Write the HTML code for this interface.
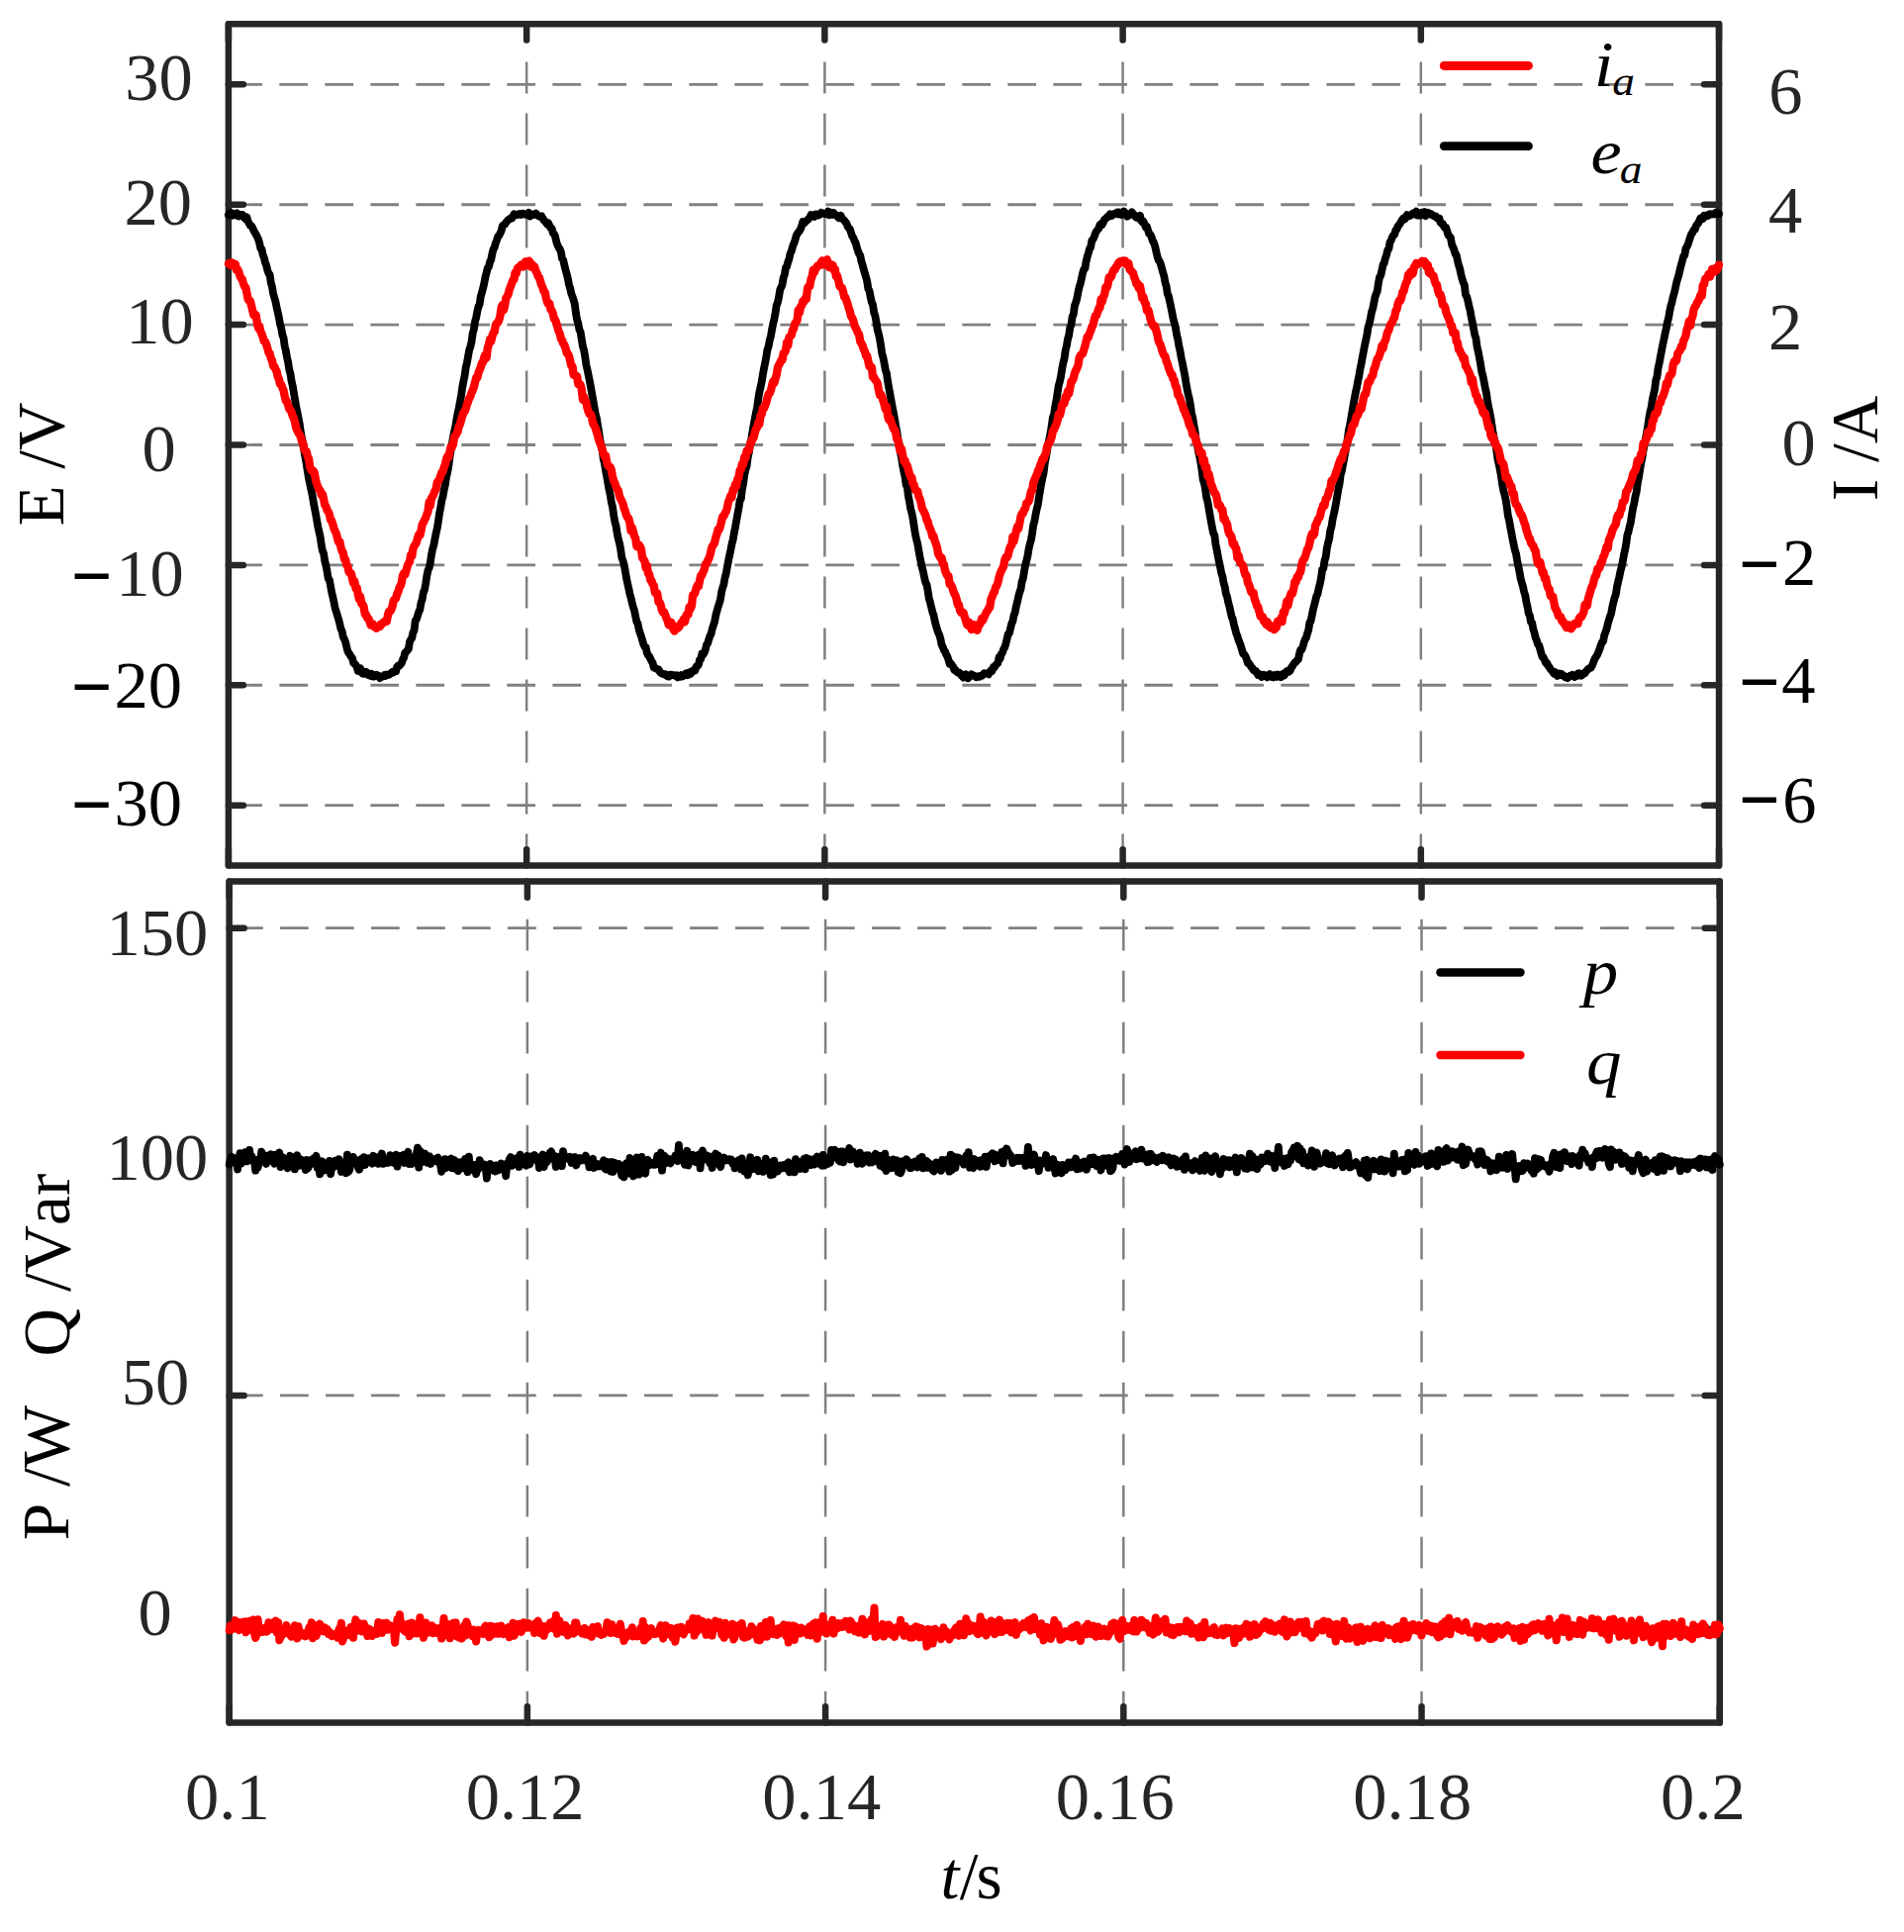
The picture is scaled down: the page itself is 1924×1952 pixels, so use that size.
<!DOCTYPE html>
<html><head><meta charset="utf-8"><title>Waveforms</title>
<style>html,body{margin:0;padding:0;background:#fff}svg{display:block}</style>
</head><body>
<svg width="1924" height="1952" viewBox="0 0 1924 1952">
<rect width="1924" height="1952" fill="#fff"/>
<g stroke="#808080" stroke-width="2.8" stroke-dasharray="28.7 17.3">
<line x1="1737.05" y1="85.36" x2="230.9" y2="85.36"/>
<line x1="1737.05" y1="206.74" x2="230.9" y2="206.74"/>
<line x1="1737.05" y1="328.12" x2="230.9" y2="328.12"/>
<line x1="1737.05" y1="449.50" x2="230.9" y2="449.50"/>
<line x1="1737.05" y1="570.88" x2="230.9" y2="570.88"/>
<line x1="1737.05" y1="692.26" x2="230.9" y2="692.26"/>
<line x1="1737.05" y1="813.64" x2="230.9" y2="813.64"/>
<line x1="1737.75" y1="937.70" x2="231.65" y2="937.70"/>
<line x1="1737.75" y1="1409.90" x2="231.65" y2="1409.90"/>
</g>
<g stroke="#808080" stroke-width="2.5" stroke-dasharray="31.8 20.2">
<line x1="532.13" y1="874.4" x2="532.13" y2="24.3"/>
<line x1="532.87" y1="1740.45" x2="532.87" y2="890.5"/>
<line x1="833.36" y1="874.4" x2="833.36" y2="24.3"/>
<line x1="834.09" y1="1740.45" x2="834.09" y2="890.5"/>
<line x1="1134.59" y1="874.4" x2="1134.59" y2="24.3"/>
<line x1="1135.31" y1="1740.45" x2="1135.31" y2="890.5"/>
<line x1="1435.82" y1="874.4" x2="1435.82" y2="24.3"/>
<line x1="1436.53" y1="1740.45" x2="1436.53" y2="890.5"/>
</g>
<g stroke="#262626" stroke-width="6.5" stroke-linecap="round">
<line x1="230.9" y1="85.36" x2="245.9" y2="85.36"/>
<line x1="1737.05" y1="85.36" x2="1722.05" y2="85.36"/>
<line x1="230.9" y1="206.74" x2="245.9" y2="206.74"/>
<line x1="1737.05" y1="206.74" x2="1722.05" y2="206.74"/>
<line x1="230.9" y1="328.12" x2="245.9" y2="328.12"/>
<line x1="1737.05" y1="328.12" x2="1722.05" y2="328.12"/>
<line x1="230.9" y1="449.50" x2="245.9" y2="449.50"/>
<line x1="1737.05" y1="449.50" x2="1722.05" y2="449.50"/>
<line x1="230.9" y1="570.88" x2="245.9" y2="570.88"/>
<line x1="1737.05" y1="570.88" x2="1722.05" y2="570.88"/>
<line x1="230.9" y1="692.26" x2="245.9" y2="692.26"/>
<line x1="1737.05" y1="692.26" x2="1722.05" y2="692.26"/>
<line x1="230.9" y1="813.64" x2="245.9" y2="813.64"/>
<line x1="1737.05" y1="813.64" x2="1722.05" y2="813.64"/>
<line x1="231.65" y1="937.70" x2="246.65" y2="937.70"/>
<line x1="1737.75" y1="937.70" x2="1722.75" y2="937.70"/>
<line x1="231.65" y1="1173.80" x2="246.65" y2="1173.80"/>
<line x1="1737.75" y1="1173.80" x2="1722.75" y2="1173.80"/>
<line x1="231.65" y1="1409.90" x2="246.65" y2="1409.90"/>
<line x1="1737.75" y1="1409.90" x2="1722.75" y2="1409.90"/>
<line x1="231.65" y1="1646.00" x2="246.65" y2="1646.00"/>
<line x1="1737.75" y1="1646.00" x2="1722.75" y2="1646.00"/>
<line x1="230.90" y1="24.3" x2="230.90" y2="40.5"/>
<line x1="230.90" y1="874.4" x2="230.90" y2="858.1999999999999"/>
<line x1="231.65" y1="890.5" x2="231.65" y2="906.7"/>
<line x1="231.65" y1="1740.45" x2="231.65" y2="1724.25"/>
<line x1="532.13" y1="24.3" x2="532.13" y2="40.5"/>
<line x1="532.13" y1="874.4" x2="532.13" y2="858.1999999999999"/>
<line x1="532.87" y1="890.5" x2="532.87" y2="906.7"/>
<line x1="532.87" y1="1740.45" x2="532.87" y2="1724.25"/>
<line x1="833.36" y1="24.3" x2="833.36" y2="40.5"/>
<line x1="833.36" y1="874.4" x2="833.36" y2="858.1999999999999"/>
<line x1="834.09" y1="890.5" x2="834.09" y2="906.7"/>
<line x1="834.09" y1="1740.45" x2="834.09" y2="1724.25"/>
<line x1="1134.59" y1="24.3" x2="1134.59" y2="40.5"/>
<line x1="1134.59" y1="874.4" x2="1134.59" y2="858.1999999999999"/>
<line x1="1135.31" y1="890.5" x2="1135.31" y2="906.7"/>
<line x1="1135.31" y1="1740.45" x2="1135.31" y2="1724.25"/>
<line x1="1435.82" y1="24.3" x2="1435.82" y2="40.5"/>
<line x1="1435.82" y1="874.4" x2="1435.82" y2="858.1999999999999"/>
<line x1="1436.53" y1="890.5" x2="1436.53" y2="906.7"/>
<line x1="1436.53" y1="1740.45" x2="1436.53" y2="1724.25"/>
<line x1="1737.05" y1="24.3" x2="1737.05" y2="40.5"/>
<line x1="1737.05" y1="874.4" x2="1737.05" y2="858.1999999999999"/>
<line x1="1737.75" y1="890.5" x2="1737.75" y2="906.7"/>
<line x1="1737.75" y1="1740.45" x2="1737.75" y2="1724.25"/>
</g>
<g fill="none" stroke="#262626" stroke-width="6.5" stroke-linejoin="round">
<rect x="230.9" y="24.3" width="1506.15" height="850.10"/>
<rect x="231.65" y="890.5" width="1506.10" height="849.95"/>
</g>
<g fill="none" stroke-linejoin="round" stroke-linecap="round">
<path d="M230.9,217.2 L232.1,215.4 L233.2,214.8 L234.4,216.5 L235.5,217.5 L236.7,216.2 L237.9,215.8 L239.0,215.3 L240.2,218.1 L241.3,218.5 L242.5,216.8 L243.6,217.5 L244.8,216.9 L246.0,218.3 L247.1,220.3 L248.3,221.4 L249.4,219.4 L250.6,223.8 L251.8,225.8 L252.9,227.8 L254.1,228.2 L255.2,230.1 L256.4,232.8 L257.5,234.8 L258.7,236.9 L259.9,239.2 L261.0,241.6 L262.2,245.6 L263.3,251.1 L264.5,251.8 L265.7,257.7 L266.8,260.1 L268.0,265.4 L269.1,267.9 L270.3,273.0 L271.5,276.3 L272.6,277.4 L273.8,285.7 L274.9,289.4 L276.1,296.7 L277.2,300.5 L278.4,304.5 L279.6,310.5 L280.7,315.3 L281.9,320.9 L283.0,327.6 L284.2,331.4 L285.4,338.5 L286.5,341.2 L287.7,349.6 L288.8,354.2 L290.0,360.8 L291.1,365.8 L292.3,373.5 L293.5,377.9 L294.6,385.3 L295.8,390.1 L296.9,397.1 L298.1,403.9 L299.3,411.4 L300.4,416.1 L301.6,422.9 L302.7,428.1 L303.9,436.8 L305.0,442.4 L306.2,448.9 L307.4,455.7 L308.5,462.3 L309.7,468.9 L310.8,476.2 L312.0,483.2 L313.2,488.9 L314.3,494.3 L315.5,499.6 L316.6,506.5 L317.8,512.7 L319.0,519.1 L320.1,525.4 L321.3,532.0 L322.4,537.3 L323.6,542.2 L324.7,550.3 L325.9,556.5 L327.1,559.3 L328.2,566.7 L329.4,571.5 L330.5,577.0 L331.7,584.6 L332.9,585.9 L334.0,591.8 L335.2,598.6 L336.3,603.0 L337.5,608.5 L338.6,614.4 L339.8,618.1 L341.0,622.1 L342.1,625.6 L343.3,630.3 L344.4,635.1 L345.6,637.6 L346.8,643.7 L347.9,645.6 L349.1,648.7 L350.2,653.4 L351.4,658.1 L352.6,660.1 L353.7,661.5 L354.9,663.7 L356.0,664.9 L357.2,669.8 L358.3,670.7 L359.5,671.8 L360.7,674.2 L361.8,678.1 L363.0,675.9 L364.1,675.3 L365.3,677.7 L366.5,680.7 L367.6,680.8 L368.8,680.7 L369.9,678.8 L371.1,681.2 L372.2,682.1 L373.4,680.8 L374.6,682.8 L375.7,680.8 L376.9,683.7 L378.0,683.6 L379.2,682.3 L380.4,681.6 L381.5,682.4 L382.7,682.8 L383.8,685.1 L385.0,683.8 L386.1,683.6 L387.3,683.4 L388.5,682.1 L389.6,682.9 L390.8,681.4 L391.9,681.8 L393.1,681.8 L394.3,680.8 L395.4,679.9 L396.6,678.7 L397.7,679.4 L398.9,678.1 L400.1,678.2 L401.2,673.7 L402.4,672.5 L403.5,672.7 L404.7,671.2 L405.8,670.1 L407.0,666.4 L408.2,664.1 L409.3,659.4 L410.5,658.8 L411.6,657.0 L412.8,655.8 L414.0,648.3 L415.1,646.2 L416.3,644.6 L417.4,638.9 L418.6,636.9 L419.7,627.3 L420.9,625.6 L422.1,621.9 L423.2,618.2 L424.4,615.7 L425.5,608.8 L426.7,605.5 L427.9,598.2 L429.0,596.1 L430.2,589.6 L431.3,582.0 L432.5,576.2 L433.7,573.8 L434.8,568.7 L436.0,560.4 L437.1,554.8 L438.3,551.0 L439.4,544.8 L440.6,538.9 L441.8,533.5 L442.9,526.9 L444.1,518.6 L445.2,513.1 L446.4,505.3 L447.6,501.3 L448.7,495.0 L449.9,489.6 L451.0,482.2 L452.2,477.0 L453.3,471.0 L454.5,461.8 L455.7,454.5 L456.8,448.6 L458.0,441.5 L459.1,436.1 L460.3,430.7 L461.5,423.3 L462.6,417.3 L463.8,411.7 L464.9,405.9 L466.1,399.4 L467.2,391.5 L468.4,385.0 L469.6,379.5 L470.7,371.3 L471.9,366.6 L473.0,360.2 L474.2,353.6 L475.4,350.0 L476.5,345.4 L477.7,336.8 L478.8,332.7 L480.0,325.0 L481.2,320.7 L482.3,314.6 L483.5,309.6 L484.6,307.5 L485.8,299.4 L486.9,295.9 L488.1,291.2 L489.3,286.1 L490.4,280.2 L491.6,275.5 L492.7,271.0 L493.9,269.7 L495.1,264.5 L496.2,262.5 L497.4,256.3 L498.5,251.9 L499.7,250.0 L500.8,245.6 L502.0,242.6 L503.2,238.8 L504.3,238.1 L505.5,235.6 L506.6,233.2 L507.8,228.3 L509.0,227.1 L510.1,226.7 L511.3,224.7 L512.4,223.4 L513.6,222.0 L514.8,221.4 L515.9,220.5 L517.1,220.7 L518.2,219.3 L519.4,216.2 L520.5,216.9 L521.7,217.0 L522.9,217.0 L524.0,216.4 L525.2,215.9 L526.3,216.9 L527.5,215.8 L528.7,215.7 L529.8,216.7 L531.0,216.7 L532.1,216.9 L533.3,217.0 L534.4,214.9 L535.6,218.5 L536.8,216.3 L537.9,216.8 L539.1,217.0 L540.2,216.4 L541.4,215.5 L542.6,217.0 L543.7,217.7 L544.9,218.7 L546.0,218.8 L547.2,218.3 L548.4,220.6 L549.5,222.4 L550.7,223.6 L551.8,224.7 L553.0,226.5 L554.1,225.3 L555.3,227.9 L556.5,230.5 L557.6,230.8 L558.8,235.4 L559.9,236.4 L561.1,239.0 L562.3,244.5 L563.4,247.6 L564.6,250.1 L565.7,251.6 L566.9,254.7 L568.0,261.3 L569.2,262.7 L570.4,268.3 L571.5,272.6 L572.7,277.1 L573.8,281.3 L575.0,287.6 L576.2,291.4 L577.3,296.6 L578.5,299.6 L579.6,303.0 L580.8,307.4 L581.9,316.0 L583.1,322.9 L584.3,326.9 L585.4,333.0 L586.6,335.4 L587.7,342.7 L588.9,349.9 L590.1,353.9 L591.2,360.2 L592.4,368.6 L593.5,373.5 L594.7,379.3 L595.9,385.2 L597.0,391.3 L598.2,398.1 L599.3,403.9 L600.5,411.1 L601.6,417.9 L602.8,421.8 L604.0,429.5 L605.1,435.9 L606.3,444.7 L607.4,449.7 L608.6,455.1 L609.8,464.0 L610.9,467.9 L612.1,476.0 L613.2,481.6 L614.4,488.6 L615.5,494.7 L616.7,499.9 L617.9,508.0 L619.0,512.1 L620.2,520.8 L621.3,527.1 L622.5,531.4 L623.7,539.3 L624.8,544.5 L626.0,548.9 L627.1,554.4 L628.3,563.3 L629.5,566.5 L630.6,570.5 L631.8,576.7 L632.9,583.6 L634.1,589.3 L635.2,594.1 L636.4,600.1 L637.6,604.1 L638.7,608.9 L639.9,613.5 L641.0,616.7 L642.2,622.8 L643.4,628.5 L644.5,629.9 L645.7,636.3 L646.8,639.6 L648.0,643.0 L649.1,646.8 L650.3,651.0 L651.5,653.4 L652.6,653.8 L653.8,659.7 L654.9,661.9 L656.1,663.1 L657.3,665.8 L658.4,667.9 L659.6,669.8 L660.7,674.6 L661.9,675.0 L663.0,675.3 L664.2,676.2 L665.4,676.4 L666.5,678.3 L667.7,679.9 L668.8,680.3 L670.0,681.2 L671.2,681.2 L672.3,681.2 L673.5,682.6 L674.6,683.4 L675.8,683.6 L677.0,681.7 L678.1,681.6 L679.3,682.0 L680.4,682.2 L681.6,682.2 L682.7,683.2 L683.9,682.4 L685.1,684.3 L686.2,683.3 L687.4,683.8 L688.5,682.1 L689.7,683.3 L690.9,682.6 L692.0,681.8 L693.2,680.4 L694.3,682.3 L695.5,682.0 L696.6,679.5 L697.8,680.9 L699.0,678.3 L700.1,678.5 L701.3,676.9 L702.4,677.5 L703.6,673.3 L704.8,673.0 L705.9,671.7 L707.1,666.5 L708.2,665.8 L709.4,660.5 L710.6,661.3 L711.7,659.5 L712.9,656.1 L714.0,651.4 L715.2,649.9 L716.3,646.0 L717.5,642.3 L718.7,640.1 L719.8,635.0 L721.0,631.6 L722.1,628.2 L723.3,621.6 L724.5,617.3 L725.6,613.3 L726.8,609.6 L727.9,606.0 L729.1,598.3 L730.2,593.9 L731.4,590.4 L732.6,583.4 L733.7,579.6 L734.9,572.6 L736.0,566.9 L737.2,561.0 L738.4,555.5 L739.5,549.8 L740.7,545.3 L741.8,538.6 L743.0,532.7 L744.1,526.4 L745.3,519.7 L746.5,513.1 L747.6,505.8 L748.8,504.1 L749.9,494.5 L751.1,488.7 L752.3,479.6 L753.4,474.6 L754.6,470.9 L755.7,462.1 L756.9,456.6 L758.1,448.4 L759.2,444.1 L760.4,436.5 L761.5,430.0 L762.7,423.5 L763.8,417.6 L765.0,412.5 L766.2,403.6 L767.3,396.7 L768.5,391.5 L769.6,386.3 L770.8,378.8 L772.0,372.3 L773.1,367.0 L774.3,360.8 L775.4,353.4 L776.6,350.3 L777.7,343.9 L778.9,339.7 L780.1,332.8 L781.2,327.3 L782.4,322.1 L783.5,316.4 L784.7,308.4 L785.9,305.5 L787.0,300.3 L788.2,292.8 L789.3,290.4 L790.5,287.5 L791.7,280.5 L792.8,277.5 L794.0,270.3 L795.1,269.3 L796.3,264.5 L797.4,261.7 L798.6,256.0 L799.8,253.7 L800.9,249.2 L802.1,246.3 L803.2,243.5 L804.4,238.9 L805.6,236.2 L806.7,234.6 L807.9,233.4 L809.0,231.4 L810.2,228.0 L811.3,223.9 L812.5,225.4 L813.7,224.4 L814.8,223.0 L816.0,222.3 L817.1,221.2 L818.3,219.6 L819.5,217.1 L820.6,218.0 L821.8,218.1 L822.9,218.9 L824.1,216.5 L825.2,216.5 L826.4,217.6 L827.6,217.3 L828.7,216.1 L829.9,214.8 L831.0,215.2 L832.2,215.6 L833.4,216.2 L834.5,215.5 L835.7,215.9 L836.8,213.6 L838.0,217.3 L839.2,216.5 L840.3,214.9 L841.5,216.8 L842.6,215.2 L843.8,217.2 L844.9,217.4 L846.1,218.4 L847.3,220.1 L848.4,220.4 L849.6,217.7 L850.7,220.4 L851.9,221.6 L853.1,222.5 L854.2,224.3 L855.4,225.4 L856.5,228.6 L857.7,230.5 L858.8,231.3 L860.0,235.1 L861.2,238.7 L862.3,240.2 L863.5,243.4 L864.6,245.2 L865.8,249.9 L867.0,253.7 L868.1,256.5 L869.3,258.2 L870.4,263.9 L871.6,267.7 L872.8,272.1 L873.9,276.2 L875.1,280.0 L876.2,284.1 L877.4,292.1 L878.5,293.7 L879.7,300.2 L880.9,305.6 L882.0,307.8 L883.2,315.9 L884.3,318.9 L885.5,325.4 L886.7,333.1 L887.8,337.1 L889.0,342.5 L890.1,349.2 L891.3,357.5 L892.4,361.2 L893.6,367.0 L894.8,374.1 L895.9,377.0 L897.1,385.5 L898.2,391.9 L899.4,398.1 L900.6,405.0 L901.7,411.3 L902.9,416.8 L904.0,423.1 L905.2,430.5 L906.4,436.5 L907.5,444.5 L908.7,448.9 L909.8,456.9 L911.0,462.3 L912.1,470.1 L913.3,476.2 L914.5,481.8 L915.6,489.8 L916.8,492.2 L917.9,501.3 L919.1,507.6 L920.3,514.6 L921.4,518.3 L922.6,524.6 L923.7,531.9 L924.9,539.7 L926.0,544.6 L927.2,549.3 L928.4,556.3 L929.5,562.7 L930.7,568.3 L931.8,573.4 L933.0,578.0 L934.2,584.0 L935.3,588.6 L936.5,590.7 L937.6,596.9 L938.8,604.9 L939.9,608.3 L941.1,613.3 L942.3,618.2 L943.4,621.4 L944.6,627.2 L945.7,631.4 L946.9,635.6 L948.1,639.2 L949.2,641.4 L950.4,645.6 L951.5,651.3 L952.7,653.6 L953.9,657.1 L955.0,658.2 L956.2,661.5 L957.3,663.3 L958.5,666.7 L959.6,670.8 L960.8,670.2 L962.0,672.2 L963.1,673.5 L964.3,676.9 L965.4,676.7 L966.6,678.6 L967.8,679.6 L968.9,679.3 L970.1,680.0 L971.2,682.0 L972.4,683.3 L973.5,684.6 L974.7,682.8 L975.9,681.3 L977.0,682.8 L978.2,685.3 L979.3,683.9 L980.5,682.6 L981.7,681.3 L982.8,681.9 L984.0,682.8 L985.1,682.9 L986.3,684.3 L987.5,683.6 L988.6,683.3 L989.8,683.7 L990.9,682.6 L992.1,682.9 L993.2,681.9 L994.4,680.3 L995.6,680.7 L996.7,680.5 L997.9,680.6 L999.0,681.3 L1000.2,679.0 L1001.4,677.3 L1002.5,677.9 L1003.7,674.1 L1004.8,674.4 L1006.0,672.1 L1007.1,671.1 L1008.3,670.1 L1009.5,664.3 L1010.6,665.6 L1011.8,660.8 L1012.9,659.7 L1014.1,655.9 L1015.3,654.0 L1016.4,650.3 L1017.6,645.4 L1018.7,640.7 L1019.9,640.0 L1021.0,635.2 L1022.2,630.1 L1023.4,627.6 L1024.5,621.7 L1025.7,618.9 L1026.8,612.7 L1028.0,608.2 L1029.2,602.5 L1030.3,598.4 L1031.5,595.1 L1032.6,587.9 L1033.8,584.5 L1035.0,577.2 L1036.1,570.9 L1037.3,566.4 L1038.4,562.0 L1039.6,554.4 L1040.7,549.8 L1041.9,545.5 L1043.1,538.6 L1044.2,530.6 L1045.4,526.5 L1046.5,519.9 L1047.7,514.2 L1048.9,509.4 L1050.0,501.8 L1051.2,494.5 L1052.3,488.3 L1053.5,482.3 L1054.6,477.9 L1055.8,467.8 L1057.0,461.8 L1058.1,454.9 L1059.3,448.1 L1060.4,443.4 L1061.6,437.1 L1062.8,429.6 L1063.9,421.6 L1065.1,418.8 L1066.2,410.7 L1067.4,404.9 L1068.6,397.1 L1069.7,389.8 L1070.9,385.5 L1072.0,380.4 L1073.2,372.8 L1074.3,367.1 L1075.5,362.5 L1076.7,353.9 L1077.8,349.6 L1079.0,342.5 L1080.1,339.0 L1081.3,330.8 L1082.5,328.0 L1083.6,319.9 L1084.8,317.6 L1085.9,308.9 L1087.1,305.6 L1088.2,301.9 L1089.4,295.5 L1090.6,290.0 L1091.7,286.7 L1092.9,281.5 L1094.0,276.2 L1095.2,272.3 L1096.4,271.3 L1097.5,264.3 L1098.7,259.4 L1099.8,255.8 L1101.0,251.5 L1102.1,249.9 L1103.3,243.1 L1104.5,241.9 L1105.6,239.6 L1106.8,236.0 L1107.9,233.7 L1109.1,232.3 L1110.3,230.9 L1111.4,227.2 L1112.6,226.1 L1113.7,227.0 L1114.9,224.7 L1116.1,221.7 L1117.2,221.0 L1118.4,219.9 L1119.5,218.6 L1120.7,218.5 L1121.8,216.3 L1123.0,218.2 L1124.2,217.5 L1125.3,216.4 L1126.5,215.7 L1127.6,215.4 L1128.8,214.5 L1130.0,216.5 L1131.1,214.7 L1132.3,215.4 L1133.4,217.0 L1134.6,216.0 L1135.7,213.6 L1136.9,215.0 L1138.1,216.5 L1139.2,218.6 L1140.4,217.0 L1141.5,217.1 L1142.7,216.4 L1143.9,214.3 L1145.0,216.3 L1146.2,217.2 L1147.3,219.0 L1148.5,219.9 L1149.7,219.6 L1150.8,220.7 L1152.0,217.9 L1153.1,222.7 L1154.3,224.2 L1155.4,223.7 L1156.6,226.5 L1157.8,229.7 L1158.9,228.8 L1160.1,232.7 L1161.2,236.2 L1162.4,236.9 L1163.6,239.4 L1164.7,243.2 L1165.9,245.1 L1167.0,248.2 L1168.2,253.5 L1169.3,258.4 L1170.5,262.5 L1171.7,264.0 L1172.8,266.6 L1174.0,271.0 L1175.1,275.0 L1176.3,279.0 L1177.5,285.6 L1178.6,289.2 L1179.8,296.9 L1180.9,299.4 L1182.1,304.8 L1183.3,310.5 L1184.4,316.1 L1185.6,322.2 L1186.7,326.3 L1187.9,330.6 L1189.0,338.0 L1190.2,342.7 L1191.4,349.8 L1192.5,354.6 L1193.7,361.9 L1194.8,366.4 L1196.0,373.1 L1197.2,378.7 L1198.3,385.9 L1199.5,392.7 L1200.6,398.1 L1201.8,403.0 L1202.9,408.8 L1204.1,417.3 L1205.3,422.5 L1206.4,429.1 L1207.6,436.0 L1208.7,444.7 L1209.9,449.1 L1211.1,457.1 L1212.2,461.3 L1213.4,468.2 L1214.5,474.9 L1215.7,484.8 L1216.8,487.8 L1218.0,494.1 L1219.2,502.6 L1220.3,506.5 L1221.5,513.7 L1222.6,520.2 L1223.8,526.9 L1225.0,533.3 L1226.1,538.6 L1227.3,540.7 L1228.4,549.7 L1229.6,555.5 L1230.8,562.1 L1231.9,567.7 L1233.1,573.1 L1234.2,578.9 L1235.4,582.4 L1236.5,588.9 L1237.7,592.8 L1238.9,600.1 L1240.0,602.8 L1241.2,608.7 L1242.3,612.7 L1243.5,618.1 L1244.7,623.5 L1245.8,625.5 L1247.0,631.6 L1248.1,635.3 L1249.3,640.1 L1250.4,642.6 L1251.6,646.9 L1252.8,649.6 L1253.9,652.7 L1255.1,656.9 L1256.2,660.6 L1257.4,661.3 L1258.6,663.3 L1259.7,665.8 L1260.9,670.0 L1262.0,670.0 L1263.2,672.0 L1264.4,673.8 L1265.5,675.0 L1266.7,677.1 L1267.8,677.6 L1269.0,677.8 L1270.1,680.2 L1271.3,682.0 L1272.5,681.1 L1273.6,681.3 L1274.8,683.9 L1275.9,683.0 L1277.1,681.8 L1278.3,682.9 L1279.4,682.8 L1280.6,684.3 L1281.7,682.1 L1282.9,681.2 L1284.0,683.4 L1285.2,684.0 L1286.4,684.4 L1287.5,682.1 L1288.7,682.9 L1289.8,683.8 L1291.0,681.5 L1292.2,681.9 L1293.3,681.8 L1294.5,684.1 L1295.6,682.0 L1296.8,680.8 L1297.9,682.3 L1299.1,679.4 L1300.3,678.1 L1301.4,677.7 L1302.6,678.7 L1303.7,677.5 L1304.9,674.5 L1306.1,673.0 L1307.2,671.1 L1308.4,669.4 L1309.5,668.9 L1310.7,667.1 L1311.9,666.3 L1313.0,660.9 L1314.2,656.6 L1315.3,656.7 L1316.5,653.6 L1317.6,649.2 L1318.8,646.0 L1320.0,644.3 L1321.1,639.9 L1322.3,636.4 L1323.4,628.9 L1324.6,627.6 L1325.8,621.6 L1326.9,615.9 L1328.1,611.3 L1329.2,607.1 L1330.4,602.0 L1331.5,600.2 L1332.7,594.1 L1333.9,589.4 L1335.0,583.7 L1336.2,575.1 L1337.3,574.4 L1338.5,566.4 L1339.7,562.8 L1340.8,554.2 L1342.0,548.5 L1343.1,544.7 L1344.3,535.9 L1345.5,532.1 L1346.6,524.7 L1347.8,519.7 L1348.9,514.4 L1350.1,508.0 L1351.2,501.4 L1352.4,494.2 L1353.6,488.4 L1354.7,479.5 L1355.9,475.8 L1357.0,469.6 L1358.2,463.4 L1359.4,456.9 L1360.5,451.1 L1361.7,444.0 L1362.8,435.4 L1364.0,429.8 L1365.1,423.6 L1366.3,416.6 L1367.5,409.3 L1368.6,403.4 L1369.8,396.9 L1370.9,392.1 L1372.1,385.5 L1373.3,379.9 L1374.4,373.0 L1375.6,367.7 L1376.7,361.2 L1377.9,355.1 L1379.0,349.3 L1380.2,343.6 L1381.4,338.1 L1382.5,330.6 L1383.7,326.8 L1384.8,322.1 L1386.0,315.5 L1387.2,311.6 L1388.3,306.4 L1389.5,300.1 L1390.6,297.0 L1391.8,293.9 L1393.0,285.3 L1394.1,279.9 L1395.3,278.3 L1396.4,273.1 L1397.6,267.3 L1398.7,266.0 L1399.9,260.9 L1401.1,257.5 L1402.2,252.8 L1403.4,251.3 L1404.5,244.9 L1405.7,243.0 L1406.9,239.6 L1408.0,237.6 L1409.2,237.0 L1410.3,232.6 L1411.5,231.7 L1412.6,228.3 L1413.8,227.5 L1415.0,225.3 L1416.1,223.7 L1417.3,221.4 L1418.4,220.3 L1419.6,221.3 L1420.8,219.4 L1421.9,217.0 L1423.1,217.5 L1424.2,218.3 L1425.4,217.2 L1426.6,217.2 L1427.7,215.5 L1428.9,216.3 L1430.0,215.7 L1431.2,213.6 L1432.3,217.4 L1433.5,217.0 L1434.7,217.7 L1435.8,217.6 L1437.0,214.9 L1438.1,215.6 L1439.3,214.2 L1440.5,218.2 L1441.6,217.1 L1442.8,214.7 L1443.9,215.4 L1445.1,215.8 L1446.2,216.2 L1447.4,217.5 L1448.6,218.0 L1449.7,218.6 L1450.9,218.4 L1452.0,220.3 L1453.2,220.8 L1454.4,220.7 L1455.5,224.7 L1456.7,225.8 L1457.8,225.9 L1459.0,228.6 L1460.2,230.4 L1461.3,230.1 L1462.5,234.3 L1463.6,237.7 L1464.8,238.7 L1465.9,240.1 L1467.1,247.1 L1468.3,249.9 L1469.4,252.4 L1470.6,256.8 L1471.7,257.5 L1472.9,263.3 L1474.1,268.3 L1475.2,271.6 L1476.4,277.4 L1477.5,281.7 L1478.7,285.5 L1479.8,287.7 L1481.0,297.7 L1482.2,299.7 L1483.3,303.8 L1484.5,309.6 L1485.6,313.6 L1486.8,320.5 L1488.0,326.3 L1489.1,332.1 L1490.3,338.5 L1491.4,341.5 L1492.6,350.4 L1493.7,355.0 L1494.9,361.4 L1496.1,367.7 L1497.2,375.3 L1498.4,379.4 L1499.5,385.0 L1500.7,391.3 L1501.9,396.8 L1503.0,404.3 L1504.2,411.2 L1505.3,416.6 L1506.5,422.7 L1507.7,430.9 L1508.8,438.1 L1510.0,444.1 L1511.1,448.3 L1512.3,455.0 L1513.4,463.5 L1514.6,469.0 L1515.8,474.7 L1516.9,480.6 L1518.1,489.2 L1519.2,495.2 L1520.4,499.7 L1521.6,504.9 L1522.7,512.1 L1523.9,521.2 L1525.0,525.6 L1526.2,532.5 L1527.3,538.2 L1528.5,544.8 L1529.7,550.5 L1530.8,555.7 L1532.0,559.4 L1533.1,566.2 L1534.3,572.1 L1535.5,578.0 L1536.6,584.2 L1537.8,588.8 L1538.9,592.4 L1540.1,597.9 L1541.3,601.6 L1542.4,608.4 L1543.6,613.4 L1544.7,619.8 L1545.9,622.1 L1547.0,628.7 L1548.2,629.4 L1549.4,635.9 L1550.5,639.1 L1551.7,644.3 L1552.8,647.0 L1554.0,650.9 L1555.2,651.9 L1556.3,655.9 L1557.5,660.4 L1558.6,663.9 L1559.8,664.4 L1560.9,667.1 L1562.1,670.0 L1563.3,670.0 L1564.4,672.7 L1565.6,673.9 L1566.7,676.1 L1567.9,677.4 L1569.1,678.4 L1570.2,680.6 L1571.4,679.0 L1572.5,679.9 L1573.7,682.9 L1574.8,681.4 L1576.0,680.6 L1577.2,682.0 L1578.3,681.1 L1579.5,683.0 L1580.6,682.9 L1581.8,684.4 L1583.0,684.0 L1584.1,685.1 L1585.3,684.1 L1586.4,682.9 L1587.6,682.6 L1588.8,681.8 L1589.9,682.9 L1591.1,684.1 L1592.2,682.4 L1593.4,682.9 L1594.5,680.5 L1595.7,680.1 L1596.9,680.8 L1598.0,682.7 L1599.2,681.6 L1600.3,680.2 L1601.5,680.4 L1602.7,678.3 L1603.8,677.1 L1605.0,675.8 L1606.1,675.2 L1607.3,675.0 L1608.4,673.4 L1609.6,670.8 L1610.8,667.3 L1611.9,664.9 L1613.1,663.2 L1614.2,661.4 L1615.4,658.3 L1616.6,655.3 L1617.7,651.7 L1618.9,648.9 L1620.0,648.1 L1621.2,641.8 L1622.4,638.7 L1623.5,635.7 L1624.7,630.5 L1625.8,626.6 L1627.0,622.6 L1628.1,619.9 L1629.3,613.3 L1630.5,608.0 L1631.6,603.8 L1632.8,600.6 L1633.9,593.3 L1635.1,587.8 L1636.3,583.1 L1637.4,577.5 L1638.6,572.9 L1639.7,567.7 L1640.9,560.8 L1642.0,556.1 L1643.2,549.7 L1644.4,540.5 L1645.5,537.4 L1646.7,532.0 L1647.8,527.9 L1649.0,519.9 L1650.2,513.0 L1651.3,508.3 L1652.5,501.5 L1653.6,497.4 L1654.8,487.9 L1655.9,482.7 L1657.1,474.8 L1658.3,467.6 L1659.4,462.8 L1660.6,455.0 L1661.7,449.2 L1662.9,443.2 L1664.1,436.7 L1665.2,430.8 L1666.4,422.0 L1667.5,416.0 L1668.7,411.6 L1669.9,403.2 L1671.0,398.5 L1672.2,393.1 L1673.3,383.9 L1674.5,380.4 L1675.6,371.6 L1676.8,366.6 L1678.0,359.8 L1679.1,354.3 L1680.3,347.8 L1681.4,342.9 L1682.6,337.0 L1683.8,331.7 L1684.9,325.3 L1686.1,321.4 L1687.2,314.6 L1688.4,308.8 L1689.5,305.3 L1690.7,299.7 L1691.9,295.8 L1693.0,290.7 L1694.2,285.3 L1695.3,281.4 L1696.5,277.5 L1697.7,272.2 L1698.8,267.7 L1700.0,263.5 L1701.1,259.1 L1702.3,258.1 L1703.5,251.0 L1704.6,249.3 L1705.8,246.7 L1706.9,243.2 L1708.1,239.4 L1709.2,236.3 L1710.4,235.1 L1711.6,232.2 L1712.7,232.0 L1713.9,228.1 L1715.0,226.7 L1716.2,225.4 L1717.4,222.5 L1718.5,220.3 L1719.7,220.0 L1720.8,221.0 L1722.0,217.7 L1723.1,219.0 L1724.3,218.1 L1725.5,218.2 L1726.6,216.6 L1727.8,216.2 L1728.9,216.4 L1730.1,216.5 L1731.3,216.3 L1732.4,216.5 L1733.6,214.9 L1734.7,216.5 L1735.9,216.0 L1737.0,216.1" stroke="#000" stroke-width="7.8"/>
<path d="M230.9,266.4 L232.1,265.6 L233.2,268.2 L234.4,265.4 L235.5,266.1 L236.7,268.8 L237.9,266.9 L239.0,272.9 L240.2,272.3 L241.3,274.6 L242.5,278.9 L243.6,281.1 L244.8,282.0 L246.0,286.7 L247.1,289.4 L248.3,290.5 L249.4,295.8 L250.6,302.3 L251.8,303.8 L252.9,304.1 L254.1,308.9 L255.2,313.8 L256.4,318.5 L257.5,317.5 L258.7,318.5 L259.9,326.6 L261.0,331.4 L262.2,329.7 L263.3,334.7 L264.5,337.4 L265.7,340.6 L266.8,344.7 L268.0,345.4 L269.1,347.7 L270.3,351.8 L271.5,356.6 L272.6,356.9 L273.8,362.1 L274.9,364.0 L276.1,369.8 L277.2,370.1 L278.4,373.1 L279.6,375.2 L280.7,380.6 L281.9,383.0 L283.0,388.0 L284.2,388.5 L285.4,391.8 L286.5,394.4 L287.7,400.1 L288.8,404.8 L290.0,405.8 L291.1,409.2 L292.3,413.3 L293.5,414.0 L294.6,416.5 L295.8,420.6 L296.9,422.5 L298.1,426.9 L299.3,432.5 L300.4,434.9 L301.6,437.6 L302.7,438.9 L303.9,441.6 L305.0,446.1 L306.2,447.7 L307.4,454.1 L308.5,456.0 L309.7,456.2 L310.8,461.2 L312.0,463.3 L313.2,471.7 L314.3,474.4 L315.5,476.1 L316.6,475.8 L317.8,477.9 L319.0,485.0 L320.1,488.8 L321.3,492.0 L322.4,494.9 L323.6,495.4 L324.7,500.1 L325.9,499.3 L327.1,504.5 L328.2,510.2 L329.4,511.7 L330.5,515.5 L331.7,516.9 L332.9,519.8 L334.0,525.2 L335.2,526.1 L336.3,529.8 L337.5,534.1 L338.6,536.6 L339.8,539.0 L341.0,543.9 L342.1,547.7 L343.3,547.3 L344.4,552.7 L345.6,556.9 L346.8,558.2 L347.9,564.8 L349.1,565.2 L350.2,570.8 L351.4,572.3 L352.6,577.8 L353.7,579.1 L354.9,579.3 L356.0,584.4 L357.2,589.3 L358.3,587.2 L359.5,594.6 L360.7,593.9 L361.8,600.6 L363.0,605.4 L364.1,602.6 L365.3,609.8 L366.5,610.8 L367.6,613.2 L368.8,620.7 L369.9,620.9 L371.1,624.5 L372.2,624.6 L373.4,627.6 L374.6,631.6 L375.7,630.6 L376.9,630.5 L378.0,633.3 L379.2,632.4 L380.4,634.8 L381.5,634.1 L382.7,633.2 L383.8,633.2 L385.0,630.5 L386.1,630.2 L387.3,629.2 L388.5,628.0 L389.6,627.3 L390.8,627.8 L391.9,621.6 L393.1,617.9 L394.3,617.9 L395.4,615.8 L396.6,612.3 L397.7,606.9 L398.9,605.4 L400.1,604.6 L401.2,600.0 L402.4,597.9 L403.5,593.8 L404.7,591.9 L405.8,588.7 L407.0,581.4 L408.2,579.0 L409.3,580.6 L410.5,576.4 L411.6,572.3 L412.8,569.1 L414.0,567.7 L415.1,560.5 L416.3,561.9 L417.4,554.6 L418.6,551.5 L419.7,550.3 L420.9,547.7 L422.1,543.2 L423.2,540.0 L424.4,540.8 L425.5,536.2 L426.7,529.9 L427.9,527.9 L429.0,525.3 L430.2,523.2 L431.3,519.6 L432.5,516.6 L433.7,507.1 L434.8,511.2 L436.0,503.1 L437.1,501.8 L438.3,499.2 L439.4,496.1 L440.6,494.0 L441.8,487.3 L442.9,486.1 L444.1,484.0 L445.2,481.0 L446.4,477.3 L447.6,476.5 L448.7,472.0 L449.9,469.4 L451.0,464.0 L452.2,460.9 L453.3,462.2 L454.5,456.1 L455.7,450.9 L456.8,451.8 L458.0,448.5 L459.1,441.4 L460.3,440.3 L461.5,437.8 L462.6,436.0 L463.8,430.4 L464.9,428.6 L466.1,424.1 L467.2,420.6 L468.4,416.9 L469.6,415.6 L470.7,412.9 L471.9,408.8 L473.0,405.9 L474.2,402.2 L475.4,400.4 L476.5,396.7 L477.7,394.2 L478.8,391.1 L480.0,386.6 L481.2,381.7 L482.3,381.6 L483.5,376.5 L484.6,373.8 L485.8,371.1 L486.9,366.9 L488.1,366.0 L489.3,360.9 L490.4,358.2 L491.6,361.8 L492.7,351.9 L493.9,348.3 L495.1,342.7 L496.2,345.0 L497.4,339.8 L498.5,336.2 L499.7,335.4 L500.8,328.4 L502.0,326.7 L503.2,325.7 L504.3,323.3 L505.5,318.8 L506.6,310.7 L507.8,308.0 L509.0,313.1 L510.1,308.8 L511.3,301.2 L512.4,299.5 L513.6,297.3 L514.8,292.0 L515.9,289.7 L517.1,286.3 L518.2,283.2 L519.4,282.6 L520.5,275.6 L521.7,276.3 L522.9,271.3 L524.0,270.1 L525.2,269.6 L526.3,268.0 L527.5,267.2 L528.7,269.5 L529.8,266.1 L531.0,264.4 L532.1,267.9 L533.3,267.8 L534.4,263.6 L535.6,264.7 L536.8,269.8 L537.9,267.4 L539.1,269.8 L540.2,269.6 L541.4,273.9 L542.6,275.9 L543.7,279.3 L544.9,280.4 L546.0,283.9 L547.2,288.0 L548.4,290.5 L549.5,294.4 L550.7,295.1 L551.8,301.1 L553.0,305.2 L554.1,307.3 L555.3,306.7 L556.5,312.7 L557.6,313.8 L558.8,316.8 L559.9,322.1 L561.1,323.0 L562.3,326.6 L563.4,330.7 L564.6,335.0 L565.7,337.0 L566.9,342.3 L568.0,343.6 L569.2,347.3 L570.4,348.6 L571.5,351.9 L572.7,356.8 L573.8,357.2 L575.0,359.7 L576.2,364.9 L577.3,369.5 L578.5,370.4 L579.6,378.8 L580.8,378.6 L581.9,379.6 L583.1,380.2 L584.3,388.2 L585.4,387.3 L586.6,389.0 L587.7,392.9 L588.9,403.7 L590.1,400.6 L591.2,405.3 L592.4,407.0 L593.5,412.3 L594.7,416.2 L595.9,418.6 L597.0,418.6 L598.2,422.9 L599.3,428.1 L600.5,430.0 L601.6,432.3 L602.8,436.0 L604.0,440.2 L605.1,444.4 L606.3,447.7 L607.4,450.3 L608.6,453.6 L609.8,458.6 L610.9,461.4 L612.1,460.4 L613.2,467.2 L614.4,470.6 L615.5,471.5 L616.7,471.9 L617.9,475.4 L619.0,481.5 L620.2,485.8 L621.3,488.0 L622.5,491.8 L623.7,494.3 L624.8,495.6 L626.0,501.5 L627.1,504.1 L628.3,506.3 L629.5,509.0 L630.6,513.5 L631.8,516.6 L632.9,520.4 L634.1,522.8 L635.2,523.6 L636.4,528.2 L637.6,536.5 L638.7,532.9 L639.9,537.2 L641.0,541.8 L642.2,543.8 L643.4,552.0 L644.5,552.6 L645.7,550.6 L646.8,552.0 L648.0,555.1 L649.1,563.5 L650.3,565.2 L651.5,567.0 L652.6,573.8 L653.8,571.5 L654.9,579.1 L656.1,580.3 L657.3,586.1 L658.4,586.5 L659.6,590.3 L660.7,591.5 L661.9,598.7 L663.0,599.7 L664.2,599.5 L665.4,608.1 L666.5,608.4 L667.7,611.4 L668.8,616.2 L670.0,618.8 L671.2,618.5 L672.3,621.4 L673.5,624.7 L674.6,627.1 L675.8,631.4 L677.0,630.6 L678.1,628.6 L679.3,630.9 L680.4,635.9 L681.6,637.6 L682.7,635.2 L683.9,633.5 L685.1,634.5 L686.2,633.4 L687.4,631.3 L688.5,629.1 L689.7,628.9 L690.9,625.4 L692.0,628.3 L693.2,622.6 L694.3,620.3 L695.5,621.0 L696.6,613.1 L697.8,615.1 L699.0,611.7 L700.1,601.1 L701.3,600.5 L702.4,599.0 L703.6,594.1 L704.8,591.3 L705.9,592.4 L707.1,586.3 L708.2,581.5 L709.4,581.2 L710.6,577.7 L711.7,575.5 L712.9,570.2 L714.0,569.4 L715.2,566.3 L716.3,564.4 L717.5,560.7 L718.7,555.5 L719.8,551.9 L721.0,550.3 L722.1,548.4 L723.3,542.7 L724.5,539.6 L725.6,534.8 L726.8,534.9 L727.9,531.6 L729.1,526.8 L730.2,521.8 L731.4,521.6 L732.6,518.5 L733.7,516.9 L734.9,512.8 L736.0,507.2 L737.2,504.3 L738.4,500.6 L739.5,502.6 L740.7,494.9 L741.8,495.0 L743.0,489.1 L744.1,491.4 L745.3,484.1 L746.5,482.4 L747.6,475.3 L748.8,474.3 L749.9,469.0 L751.1,469.1 L752.3,461.5 L753.4,462.8 L754.6,455.4 L755.7,456.6 L756.9,454.4 L758.1,447.9 L759.2,447.1 L760.4,443.3 L761.5,442.6 L762.7,437.6 L763.8,433.6 L765.0,432.0 L766.2,426.9 L767.3,428.7 L768.5,419.7 L769.6,419.0 L770.8,412.4 L772.0,412.6 L773.1,410.0 L774.3,406.5 L775.4,402.1 L776.6,398.3 L777.7,397.2 L778.9,394.6 L780.1,389.3 L781.2,385.4 L782.4,387.0 L783.5,382.6 L784.7,378.8 L785.9,371.3 L787.0,369.0 L788.2,366.7 L789.3,364.1 L790.5,363.9 L791.7,356.7 L792.8,356.4 L794.0,354.0 L795.1,345.8 L796.3,348.9 L797.4,340.6 L798.6,339.6 L799.8,338.6 L800.9,333.4 L802.1,332.1 L803.2,327.1 L804.4,325.5 L805.6,323.4 L806.7,313.2 L807.9,315.9 L809.0,310.0 L810.2,308.8 L811.3,304.3 L812.5,304.8 L813.7,301.2 L814.8,302.2 L816.0,291.2 L817.1,289.1 L818.3,289.0 L819.5,282.1 L820.6,279.6 L821.8,272.6 L822.9,275.1 L824.1,271.6 L825.2,270.2 L826.4,268.3 L827.6,268.3 L828.7,267.9 L829.9,264.9 L831.0,263.3 L832.2,267.3 L833.4,267.1 L834.5,265.2 L835.7,262.2 L836.8,266.6 L838.0,270.2 L839.2,266.8 L840.3,268.3 L841.5,267.8 L842.6,272.9 L843.8,271.9 L844.9,279.3 L846.1,279.0 L847.3,283.4 L848.4,289.0 L849.6,290.4 L850.7,290.6 L851.9,294.1 L853.1,300.0 L854.2,300.4 L855.4,303.9 L856.5,307.0 L857.7,311.3 L858.8,314.4 L860.0,319.6 L861.2,321.3 L862.3,324.1 L863.5,328.8 L864.6,331.1 L865.8,333.4 L867.0,336.5 L868.1,338.0 L869.3,345.0 L870.4,347.0 L871.6,348.9 L872.8,353.2 L873.9,355.0 L875.1,359.6 L876.2,359.7 L877.4,365.4 L878.5,370.2 L879.7,369.9 L880.9,371.3 L882.0,381.1 L883.2,380.9 L884.3,383.7 L885.5,385.0 L886.7,387.3 L887.8,393.5 L889.0,399.2 L890.1,398.2 L891.3,400.7 L892.4,404.8 L893.6,408.7 L894.8,413.4 L895.9,410.6 L897.1,420.4 L898.2,424.1 L899.4,422.7 L900.6,427.1 L901.7,429.5 L902.9,433.2 L904.0,433.9 L905.2,437.5 L906.4,444.2 L907.5,444.5 L908.7,451.7 L909.8,455.8 L911.0,453.5 L912.1,459.7 L913.3,466.0 L914.5,465.2 L915.6,469.5 L916.8,470.5 L917.9,474.6 L919.1,479.1 L920.3,482.1 L921.4,482.5 L922.6,488.7 L923.7,489.9 L924.9,495.1 L926.0,495.6 L927.2,496.3 L928.4,501.6 L929.5,503.8 L930.7,508.1 L931.8,513.8 L933.0,515.7 L934.2,518.2 L935.3,520.6 L936.5,525.7 L937.6,526.6 L938.8,532.2 L939.9,533.9 L941.1,537.1 L942.3,542.3 L943.4,541.5 L944.6,546.4 L945.7,549.4 L946.9,552.8 L948.1,559.7 L949.2,561.6 L950.4,563.8 L951.5,563.4 L952.7,569.4 L953.9,570.4 L955.0,576.5 L956.2,579.3 L957.3,581.8 L958.5,582.1 L959.6,590.2 L960.8,590.6 L962.0,592.7 L963.1,596.3 L964.3,599.7 L965.4,601.4 L966.6,605.4 L967.8,610.9 L968.9,611.0 L970.1,616.8 L971.2,618.9 L972.4,618.4 L973.5,619.0 L974.7,623.0 L975.9,626.8 L977.0,630.7 L978.2,632.1 L979.3,628.8 L980.5,632.2 L981.7,636.0 L982.8,631.0 L984.0,632.9 L985.1,631.4 L986.3,632.7 L987.5,636.8 L988.6,633.2 L989.8,631.0 L990.9,629.6 L992.1,624.8 L993.2,626.9 L994.4,623.7 L995.6,621.1 L996.7,618.5 L997.9,617.2 L999.0,614.4 L1000.2,613.8 L1001.4,605.3 L1002.5,603.2 L1003.7,599.3 L1004.8,598.5 L1006.0,593.4 L1007.1,592.1 L1008.3,589.0 L1009.5,583.4 L1010.6,579.7 L1011.8,576.7 L1012.9,574.7 L1014.1,572.2 L1015.3,565.8 L1016.4,563.0 L1017.6,563.3 L1018.7,561.0 L1019.9,555.2 L1021.0,552.2 L1022.2,551.3 L1023.4,542.3 L1024.5,547.2 L1025.7,541.8 L1026.8,536.7 L1028.0,532.2 L1029.2,534.2 L1030.3,528.5 L1031.5,521.9 L1032.6,518.9 L1033.8,518.8 L1035.0,515.1 L1036.1,513.7 L1037.3,508.2 L1038.4,507.7 L1039.6,506.4 L1040.7,502.3 L1041.9,496.3 L1043.1,495.7 L1044.2,488.1 L1045.4,484.7 L1046.5,482.1 L1047.7,479.6 L1048.9,475.6 L1050.0,474.0 L1051.2,469.8 L1052.3,467.4 L1053.5,463.7 L1054.6,463.9 L1055.8,460.1 L1057.0,457.6 L1058.1,451.1 L1059.3,448.6 L1060.4,447.8 L1061.6,445.0 L1062.8,441.2 L1063.9,435.4 L1065.1,434.1 L1066.2,431.2 L1067.4,428.9 L1068.6,424.7 L1069.7,418.4 L1070.9,419.5 L1072.0,415.7 L1073.2,408.8 L1074.3,407.5 L1075.5,407.8 L1076.7,400.6 L1077.8,401.7 L1079.0,395.3 L1080.1,397.8 L1081.3,391.9 L1082.5,385.2 L1083.6,384.9 L1084.8,382.0 L1085.9,377.4 L1087.1,374.4 L1088.2,372.1 L1089.4,369.4 L1090.6,361.7 L1091.7,359.1 L1092.9,358.1 L1094.0,357.7 L1095.2,353.5 L1096.4,349.9 L1097.5,345.3 L1098.7,340.2 L1099.8,340.9 L1101.0,336.6 L1102.1,334.5 L1103.3,330.3 L1104.5,328.7 L1105.6,323.6 L1106.8,319.1 L1107.9,318.8 L1109.1,315.5 L1110.3,311.6 L1111.4,311.1 L1112.6,302.2 L1113.7,304.9 L1114.9,300.0 L1116.1,297.8 L1117.2,290.3 L1118.4,290.8 L1119.5,287.7 L1120.7,280.2 L1121.8,280.9 L1123.0,279.4 L1124.2,275.5 L1125.3,272.9 L1126.5,272.7 L1127.6,270.0 L1128.8,268.6 L1130.0,265.8 L1131.1,264.8 L1132.3,264.0 L1133.4,265.4 L1134.6,263.5 L1135.7,265.5 L1136.9,263.4 L1138.1,265.4 L1139.2,267.9 L1140.4,266.0 L1141.5,272.4 L1142.7,273.1 L1143.9,274.8 L1145.0,275.7 L1146.2,280.2 L1147.3,282.9 L1148.5,287.1 L1149.7,286.6 L1150.8,291.3 L1152.0,289.0 L1153.1,294.7 L1154.3,301.4 L1155.4,300.0 L1156.6,305.4 L1157.8,306.7 L1158.9,313.8 L1160.1,312.8 L1161.2,316.1 L1162.4,322.0 L1163.6,325.9 L1164.7,328.1 L1165.9,330.1 L1167.0,329.3 L1168.2,333.5 L1169.3,337.2 L1170.5,343.5 L1171.7,346.8 L1172.8,348.7 L1174.0,353.0 L1175.1,356.5 L1176.3,359.1 L1177.5,360.3 L1178.6,365.1 L1179.8,367.7 L1180.9,371.7 L1182.1,374.7 L1183.3,378.1 L1184.4,378.3 L1185.6,383.4 L1186.7,384.2 L1187.9,390.3 L1189.0,391.2 L1190.2,398.8 L1191.4,400.2 L1192.5,402.7 L1193.7,406.8 L1194.8,409.0 L1196.0,413.6 L1197.2,415.4 L1198.3,419.4 L1199.5,421.3 L1200.6,425.0 L1201.8,429.4 L1202.9,431.5 L1204.1,433.8 L1205.3,439.3 L1206.4,439.9 L1207.6,440.9 L1208.7,446.8 L1209.9,448.5 L1211.1,451.5 L1212.2,457.2 L1213.4,456.5 L1214.5,457.4 L1215.7,467.0 L1216.8,464.3 L1218.0,472.7 L1219.2,471.8 L1220.3,481.0 L1221.5,478.7 L1222.6,483.7 L1223.8,489.4 L1225.0,491.7 L1226.1,495.2 L1227.3,498.1 L1228.4,498.9 L1229.6,503.0 L1230.8,510.4 L1231.9,509.5 L1233.1,511.2 L1234.2,515.0 L1235.4,515.2 L1236.5,524.8 L1237.7,524.1 L1238.9,527.7 L1240.0,529.5 L1241.2,536.4 L1242.3,539.5 L1243.5,540.5 L1244.7,543.2 L1245.8,549.8 L1247.0,548.9 L1248.1,552.8 L1249.3,554.5 L1250.4,563.8 L1251.6,561.2 L1252.8,566.9 L1253.9,569.3 L1255.1,570.1 L1256.2,571.6 L1257.4,577.5 L1258.6,581.1 L1259.7,581.6 L1260.9,588.8 L1262.0,590.6 L1263.2,594.3 L1264.4,598.3 L1265.5,599.3 L1266.7,599.1 L1267.8,605.5 L1269.0,608.2 L1270.1,612.3 L1271.3,613.3 L1272.5,618.0 L1273.6,622.6 L1274.8,623.3 L1275.9,623.0 L1277.1,627.8 L1278.3,627.1 L1279.4,630.9 L1280.6,628.2 L1281.7,632.3 L1282.9,632.2 L1284.0,634.4 L1285.2,632.4 L1286.4,634.3 L1287.5,636.2 L1288.7,632.2 L1289.8,634.1 L1291.0,628.0 L1292.2,627.9 L1293.3,627.6 L1294.5,624.4 L1295.6,628.2 L1296.8,618.2 L1297.9,619.5 L1299.1,614.1 L1300.3,607.5 L1301.4,612.0 L1302.6,606.7 L1303.7,602.2 L1304.9,598.9 L1306.1,599.6 L1307.2,595.1 L1308.4,587.6 L1309.5,588.3 L1310.7,583.0 L1311.9,583.4 L1313.0,579.4 L1314.2,578.0 L1315.3,571.0 L1316.5,566.3 L1317.6,565.1 L1318.8,562.6 L1320.0,558.6 L1321.1,555.0 L1322.3,553.3 L1323.4,548.6 L1324.6,542.9 L1325.8,539.3 L1326.9,541.3 L1328.1,539.4 L1329.2,530.5 L1330.4,529.0 L1331.5,525.5 L1332.7,523.5 L1333.9,521.9 L1335.0,516.5 L1336.2,513.1 L1337.3,509.9 L1338.5,510.9 L1339.7,503.9 L1340.8,503.3 L1342.0,500.2 L1343.1,495.8 L1344.3,493.9 L1345.5,485.9 L1346.6,486.0 L1347.8,483.4 L1348.9,481.1 L1350.1,477.2 L1351.2,474.9 L1352.4,470.3 L1353.6,466.7 L1354.7,463.6 L1355.9,464.3 L1357.0,459.5 L1358.2,455.6 L1359.4,454.8 L1360.5,448.8 L1361.7,446.6 L1362.8,443.1 L1364.0,439.4 L1365.1,438.1 L1366.3,431.0 L1367.5,428.8 L1368.6,428.6 L1369.8,423.6 L1370.9,420.0 L1372.1,419.6 L1373.3,415.7 L1374.4,410.7 L1375.6,413.5 L1376.7,408.1 L1377.9,401.9 L1379.0,398.3 L1380.2,398.0 L1381.4,391.6 L1382.5,386.0 L1383.7,386.5 L1384.8,383.8 L1386.0,380.5 L1387.2,379.4 L1388.3,373.4 L1389.5,370.9 L1390.6,366.8 L1391.8,362.4 L1393.0,361.8 L1394.1,358.4 L1395.3,355.0 L1396.4,349.3 L1397.6,352.0 L1398.7,346.2 L1399.9,344.2 L1401.1,339.7 L1402.2,335.3 L1403.4,333.6 L1404.5,329.2 L1405.7,327.1 L1406.9,325.6 L1408.0,322.4 L1409.2,320.6 L1410.3,314.5 L1411.5,312.5 L1412.6,307.1 L1413.8,303.8 L1415.0,304.0 L1416.1,301.3 L1417.3,295.0 L1418.4,294.6 L1419.6,289.5 L1420.8,285.7 L1421.9,284.3 L1423.1,277.4 L1424.2,279.4 L1425.4,274.7 L1426.6,274.0 L1427.7,276.6 L1428.9,270.0 L1430.0,268.5 L1431.2,266.0 L1432.3,266.4 L1433.5,266.9 L1434.7,266.1 L1435.8,265.6 L1437.0,263.7 L1438.1,266.0 L1439.3,263.9 L1440.5,265.5 L1441.6,269.6 L1442.8,267.8 L1443.9,275.5 L1445.1,273.2 L1446.2,277.3 L1447.4,278.1 L1448.6,278.6 L1449.7,283.6 L1450.9,287.1 L1452.0,287.6 L1453.2,294.4 L1454.4,297.7 L1455.5,297.5 L1456.7,301.3 L1457.8,308.2 L1459.0,308.4 L1460.2,310.4 L1461.3,315.2 L1462.5,318.8 L1463.6,320.9 L1464.8,323.9 L1465.9,328.7 L1467.1,329.0 L1468.3,336.6 L1469.4,337.0 L1470.6,336.1 L1471.7,345.0 L1472.9,346.3 L1474.1,353.5 L1475.2,354.0 L1476.4,357.7 L1477.5,358.6 L1478.7,362.8 L1479.8,361.6 L1481.0,369.8 L1482.2,371.3 L1483.3,374.0 L1484.5,376.3 L1485.6,379.0 L1486.8,386.6 L1488.0,382.9 L1489.1,390.6 L1490.3,394.5 L1491.4,399.3 L1492.6,400.2 L1493.7,405.8 L1494.9,405.3 L1496.1,409.9 L1497.2,411.3 L1498.4,416.5 L1499.5,418.1 L1500.7,417.3 L1501.9,422.3 L1503.0,427.3 L1504.2,432.5 L1505.3,431.2 L1506.5,440.1 L1507.7,442.7 L1508.8,440.9 L1510.0,447.4 L1511.1,447.0 L1512.3,451.6 L1513.4,451.8 L1514.6,455.6 L1515.8,460.9 L1516.9,466.3 L1518.1,467.2 L1519.2,468.8 L1520.4,474.3 L1521.6,482.9 L1522.7,481.5 L1523.9,484.6 L1525.0,487.1 L1526.2,490.8 L1527.3,491.2 L1528.5,498.7 L1529.7,498.7 L1530.8,506.3 L1532.0,509.8 L1533.1,510.8 L1534.3,513.4 L1535.5,516.8 L1536.6,519.6 L1537.8,520.3 L1538.9,523.5 L1540.1,527.6 L1541.3,530.5 L1542.4,535.2 L1543.6,538.9 L1544.7,542.8 L1545.9,544.1 L1547.0,548.6 L1548.2,550.2 L1549.4,551.4 L1550.5,554.9 L1551.7,556.6 L1552.8,563.8 L1554.0,569.3 L1555.2,570.4 L1556.3,567.9 L1557.5,573.4 L1558.6,578.6 L1559.8,578.5 L1560.9,584.8 L1562.1,584.1 L1563.3,591.0 L1564.4,594.2 L1565.6,595.3 L1566.7,601.8 L1567.9,603.1 L1569.1,602.4 L1570.2,608.3 L1571.4,614.2 L1572.5,615.8 L1573.7,618.4 L1574.8,622.4 L1576.0,622.7 L1577.2,623.4 L1578.3,627.5 L1579.5,627.7 L1580.6,630.2 L1581.8,631.7 L1583.0,634.2 L1584.1,631.7 L1585.3,631.4 L1586.4,634.8 L1587.6,635.4 L1588.8,632.5 L1589.9,632.6 L1591.1,629.9 L1592.2,629.8 L1593.4,629.6 L1594.5,630.2 L1595.7,624.6 L1596.9,623.3 L1598.0,623.3 L1599.2,621.0 L1600.3,618.7 L1601.5,611.1 L1602.7,609.9 L1603.8,612.0 L1605.0,604.4 L1606.1,600.9 L1607.3,596.8 L1608.4,593.4 L1609.6,590.9 L1610.8,585.8 L1611.9,582.2 L1613.1,581.3 L1614.2,574.9 L1615.4,574.9 L1616.6,573.1 L1617.7,568.1 L1618.9,567.9 L1620.0,562.7 L1621.2,560.9 L1622.4,556.7 L1623.5,552.4 L1624.7,554.1 L1625.8,545.8 L1627.0,542.9 L1628.1,540.6 L1629.3,535.8 L1630.5,533.4 L1631.6,531.5 L1632.8,529.6 L1633.9,523.3 L1635.1,520.1 L1636.3,521.0 L1637.4,516.5 L1638.6,514.2 L1639.7,507.4 L1640.9,506.9 L1642.0,505.0 L1643.2,496.8 L1644.4,495.6 L1645.5,492.9 L1646.7,489.7 L1647.8,487.4 L1649.0,483.9 L1650.2,479.2 L1651.3,476.9 L1652.5,475.4 L1653.6,471.2 L1654.8,464.9 L1655.9,466.2 L1657.1,464.4 L1658.3,458.7 L1659.4,457.9 L1660.6,447.8 L1661.7,448.4 L1662.9,445.3 L1664.1,442.6 L1665.2,436.5 L1666.4,438.9 L1667.5,434.0 L1668.7,433.8 L1669.9,425.3 L1671.0,424.6 L1672.2,418.1 L1673.3,418.7 L1674.5,417.0 L1675.6,413.2 L1676.8,407.4 L1678.0,407.2 L1679.1,402.1 L1680.3,400.8 L1681.4,397.6 L1682.6,394.2 L1683.8,387.1 L1684.9,388.9 L1686.1,383.2 L1687.2,379.2 L1688.4,378.9 L1689.5,377.2 L1690.7,368.5 L1691.9,365.0 L1693.0,365.5 L1694.2,364.1 L1695.3,357.2 L1696.5,355.7 L1697.7,354.0 L1698.8,350.1 L1700.0,350.6 L1701.1,344.6 L1702.3,342.2 L1703.5,339.3 L1704.6,332.7 L1705.8,330.1 L1706.9,324.4 L1708.1,329.3 L1709.2,322.5 L1710.4,319.6 L1711.6,312.5 L1712.7,309.9 L1713.9,308.5 L1715.0,305.6 L1716.2,304.3 L1717.4,301.0 L1718.5,298.0 L1719.7,299.0 L1720.8,288.0 L1722.0,287.3 L1723.1,282.0 L1724.3,280.8 L1725.5,279.7 L1726.6,276.9 L1727.8,279.7 L1728.9,276.8 L1730.1,271.9 L1731.3,273.0 L1732.4,274.4 L1733.6,270.9 L1734.7,272.8 L1735.9,270.4 L1737.0,267.6" stroke="#ff0000" stroke-width="8.3"/>
<path d="M231.7,1176.6 L232.9,1173.5 L234.1,1168.7 L235.3,1171.2 L236.5,1170.2 L237.7,1174.6 L238.9,1172.5 L240.1,1181.5 L241.3,1171.8 L242.5,1165.2 L243.7,1175.7 L244.9,1170.9 L246.1,1166.5 L247.3,1164.2 L248.5,1164.3 L249.7,1173.4 L250.9,1171.5 L252.1,1161.8 L253.3,1172.1 L254.5,1168.2 L255.7,1173.2 L257.0,1172.4 L258.2,1182.7 L259.4,1171.8 L260.6,1179.6 L261.8,1174.3 L263.0,1174.1 L264.2,1163.7 L265.4,1166.4 L266.6,1168.0 L267.8,1172.3 L269.0,1175.9 L270.2,1167.7 L271.4,1173.4 L272.6,1170.8 L273.8,1166.3 L275.0,1171.6 L276.2,1171.3 L277.4,1175.8 L278.6,1166.7 L279.8,1169.1 L281.1,1168.4 L282.3,1164.5 L283.5,1179.2 L284.7,1172.2 L285.9,1169.4 L287.1,1171.2 L288.3,1171.7 L289.5,1171.1 L290.7,1180.3 L291.9,1173.5 L293.1,1167.7 L294.3,1173.0 L295.5,1173.9 L296.7,1169.4 L297.9,1181.4 L299.1,1172.1 L300.3,1167.3 L301.5,1175.5 L302.7,1177.7 L303.9,1171.4 L305.1,1176.2 L306.4,1177.7 L307.6,1173.6 L308.8,1182.0 L310.0,1172.0 L311.2,1180.3 L312.4,1177.8 L313.6,1172.1 L314.8,1176.1 L316.0,1175.1 L317.2,1170.2 L318.4,1170.2 L319.6,1167.9 L320.8,1180.2 L322.0,1173.9 L323.2,1186.3 L324.4,1175.5 L325.6,1173.3 L326.8,1182.9 L328.0,1177.4 L329.2,1175.8 L330.5,1180.4 L331.7,1182.5 L332.9,1172.9 L334.1,1186.1 L335.3,1179.1 L336.5,1175.7 L337.7,1178.8 L338.9,1172.6 L340.1,1172.7 L341.3,1177.4 L342.5,1171.1 L343.7,1175.5 L344.9,1184.0 L346.1,1180.0 L347.3,1176.9 L348.5,1176.8 L349.7,1185.2 L350.9,1166.6 L352.1,1184.0 L353.3,1181.8 L354.5,1174.2 L355.8,1175.1 L357.0,1168.9 L358.2,1175.0 L359.4,1173.9 L360.6,1172.3 L361.8,1179.1 L363.0,1181.8 L364.2,1177.7 L365.4,1171.0 L366.6,1176.4 L367.8,1169.1 L369.0,1177.0 L370.2,1170.9 L371.4,1173.9 L372.6,1170.2 L373.8,1174.0 L375.0,1172.9 L376.2,1175.6 L377.4,1167.8 L378.6,1173.2 L379.9,1170.1 L381.1,1169.3 L382.3,1175.9 L383.5,1175.1 L384.7,1171.6 L385.9,1165.5 L387.1,1175.8 L388.3,1175.3 L389.5,1175.1 L390.7,1172.2 L391.9,1174.9 L393.1,1173.2 L394.3,1167.1 L395.5,1174.2 L396.7,1169.4 L397.9,1174.7 L399.1,1170.2 L400.3,1166.8 L401.5,1178.7 L402.7,1169.2 L403.9,1168.2 L405.2,1169.6 L406.4,1167.9 L407.6,1166.9 L408.8,1175.0 L410.0,1170.0 L411.2,1166.6 L412.4,1163.9 L413.6,1176.0 L414.8,1172.5 L416.0,1176.1 L417.2,1169.7 L418.4,1174.6 L419.6,1174.5 L420.8,1166.3 L422.0,1159.7 L423.2,1179.6 L424.4,1162.8 L425.6,1174.7 L426.8,1167.6 L428.0,1169.5 L429.3,1165.5 L430.5,1172.1 L431.7,1174.8 L432.9,1171.4 L434.1,1168.2 L435.3,1176.0 L436.5,1170.5 L437.7,1172.6 L438.9,1171.7 L440.1,1172.9 L441.3,1170.4 L442.5,1169.7 L443.7,1175.1 L444.9,1175.2 L446.1,1183.8 L447.3,1178.2 L448.5,1181.1 L449.7,1171.2 L450.9,1179.8 L452.1,1178.2 L453.3,1173.2 L454.6,1171.3 L455.8,1170.6 L457.0,1180.2 L458.2,1175.3 L459.4,1172.1 L460.6,1181.0 L461.8,1178.1 L463.0,1183.1 L464.2,1180.3 L465.4,1174.2 L466.6,1177.1 L467.8,1179.6 L469.0,1180.6 L470.2,1170.9 L471.4,1174.6 L472.6,1184.2 L473.8,1168.7 L475.0,1180.8 L476.2,1179.8 L477.4,1181.7 L478.7,1182.4 L479.9,1177.0 L481.1,1186.2 L482.3,1179.9 L483.5,1181.0 L484.7,1172.1 L485.9,1177.9 L487.1,1177.8 L488.3,1177.3 L489.5,1176.6 L490.7,1178.6 L491.9,1190.5 L493.1,1177.2 L494.3,1180.8 L495.5,1176.1 L496.7,1177.7 L497.9,1181.6 L499.1,1182.9 L500.3,1183.5 L501.5,1177.4 L502.7,1178.4 L504.0,1182.2 L505.2,1179.6 L506.4,1175.6 L507.6,1180.0 L508.8,1177.5 L510.0,1179.6 L511.2,1188.2 L512.4,1175.5 L513.6,1175.5 L514.8,1171.2 L516.0,1169.0 L517.2,1177.9 L518.4,1171.5 L519.6,1173.0 L520.8,1173.8 L522.0,1170.0 L523.2,1169.7 L524.4,1179.0 L525.6,1166.6 L526.8,1173.8 L528.1,1175.9 L529.3,1176.2 L530.5,1174.1 L531.7,1177.8 L532.9,1167.9 L534.1,1170.6 L535.3,1176.5 L536.5,1168.4 L537.7,1170.8 L538.9,1171.1 L540.1,1167.1 L541.3,1172.0 L542.5,1172.6 L543.7,1169.3 L544.9,1180.0 L546.1,1177.0 L547.3,1169.1 L548.5,1166.5 L549.7,1179.0 L550.9,1171.2 L552.1,1174.6 L553.4,1172.8 L554.6,1168.7 L555.8,1164.6 L557.0,1163.4 L558.2,1166.8 L559.4,1167.7 L560.6,1170.0 L561.8,1179.0 L563.0,1168.5 L564.2,1175.5 L565.4,1175.3 L566.6,1170.2 L567.8,1178.1 L569.0,1163.2 L570.2,1168.4 L571.4,1169.7 L572.6,1169.8 L573.8,1170.6 L575.0,1171.5 L576.2,1168.8 L577.5,1175.0 L578.7,1171.0 L579.9,1171.5 L581.1,1169.1 L582.3,1177.4 L583.5,1171.4 L584.7,1173.4 L585.9,1170.0 L587.1,1170.4 L588.3,1172.2 L589.5,1171.2 L590.7,1171.2 L591.9,1167.6 L593.1,1173.1 L594.3,1172.4 L595.5,1179.3 L596.7,1176.1 L597.9,1171.8 L599.1,1170.8 L600.3,1180.0 L601.5,1176.2 L602.8,1177.1 L604.0,1176.1 L605.2,1178.5 L606.4,1178.3 L607.6,1176.9 L608.8,1176.1 L610.0,1172.3 L611.2,1180.7 L612.4,1181.5 L613.6,1173.9 L614.8,1175.5 L616.0,1178.8 L617.2,1183.6 L618.4,1174.0 L619.6,1184.0 L620.8,1174.6 L622.0,1178.4 L623.2,1180.3 L624.4,1180.4 L625.6,1175.9 L626.9,1179.6 L628.1,1187.4 L629.3,1182.8 L630.5,1189.4 L631.7,1177.5 L632.9,1175.3 L634.1,1174.9 L635.3,1185.7 L636.5,1170.0 L637.7,1171.5 L638.9,1180.3 L640.1,1188.4 L641.3,1183.5 L642.5,1174.6 L643.7,1169.5 L644.9,1180.7 L646.1,1186.6 L647.3,1182.3 L648.5,1169.0 L649.7,1177.1 L650.9,1182.8 L652.2,1185.7 L653.4,1172.9 L654.6,1171.8 L655.8,1177.5 L657.0,1175.9 L658.2,1174.8 L659.4,1176.3 L660.6,1176.8 L661.8,1176.9 L663.0,1176.5 L664.2,1167.9 L665.4,1171.3 L666.6,1168.4 L667.8,1164.6 L669.0,1182.7 L670.2,1172.9 L671.4,1167.8 L672.6,1173.2 L673.8,1174.9 L675.0,1170.4 L676.3,1173.9 L677.5,1175.3 L678.7,1172.8 L679.9,1171.4 L681.1,1171.7 L682.3,1167.6 L683.5,1171.1 L684.7,1173.1 L685.9,1156.8 L687.1,1171.8 L688.3,1171.4 L689.5,1170.7 L690.7,1172.8 L691.9,1176.7 L693.1,1168.5 L694.3,1162.7 L695.5,1177.5 L696.7,1172.7 L697.9,1167.1 L699.1,1172.4 L700.3,1166.8 L701.6,1169.2 L702.8,1173.9 L704.0,1169.8 L705.2,1171.0 L706.4,1166.5 L707.6,1180.3 L708.8,1166.7 L710.0,1162.6 L711.2,1167.7 L712.4,1167.4 L713.6,1171.5 L714.8,1167.6 L716.0,1169.8 L717.2,1175.0 L718.4,1174.5 L719.6,1180.0 L720.8,1168.2 L722.0,1169.3 L723.2,1165.6 L724.4,1169.4 L725.7,1167.3 L726.9,1176.7 L728.1,1179.1 L729.3,1173.3 L730.5,1172.3 L731.7,1169.6 L732.9,1171.9 L734.1,1172.4 L735.3,1171.9 L736.5,1171.1 L737.7,1171.6 L738.9,1171.5 L740.1,1175.3 L741.3,1174.0 L742.5,1180.4 L743.7,1178.7 L744.9,1175.3 L746.1,1172.3 L747.3,1177.9 L748.5,1181.2 L749.7,1170.5 L751.0,1179.1 L752.2,1183.4 L753.4,1180.1 L754.6,1181.3 L755.8,1187.3 L757.0,1178.2 L758.2,1169.3 L759.4,1180.5 L760.6,1181.2 L761.8,1172.9 L763.0,1177.4 L764.2,1178.4 L765.4,1171.8 L766.6,1183.3 L767.8,1178.2 L769.0,1175.8 L770.2,1177.6 L771.4,1183.9 L772.6,1182.6 L773.8,1170.6 L775.1,1179.1 L776.3,1180.2 L777.5,1174.2 L778.7,1187.2 L779.9,1179.7 L781.1,1186.7 L782.3,1172.7 L783.5,1183.7 L784.7,1178.9 L785.9,1183.5 L787.1,1178.6 L788.3,1177.6 L789.5,1178.8 L790.7,1180.2 L791.9,1177.1 L793.1,1179.6 L794.3,1180.4 L795.5,1175.3 L796.7,1174.4 L797.9,1184.3 L799.1,1183.0 L800.4,1181.5 L801.6,1176.3 L802.8,1184.3 L804.0,1171.2 L805.2,1178.1 L806.4,1177.3 L807.6,1174.0 L808.8,1181.0 L810.0,1175.4 L811.2,1175.4 L812.4,1171.1 L813.6,1181.4 L814.8,1169.9 L816.0,1173.4 L817.2,1175.1 L818.4,1171.3 L819.6,1177.1 L820.8,1176.1 L822.0,1171.4 L823.2,1176.5 L824.5,1170.3 L825.7,1168.7 L826.9,1173.7 L828.1,1173.6 L829.3,1176.6 L830.5,1177.7 L831.7,1166.9 L832.9,1177.6 L834.1,1172.0 L835.3,1170.8 L836.5,1176.0 L837.7,1174.7 L838.9,1174.6 L840.1,1162.0 L841.3,1169.7 L842.5,1165.0 L843.7,1161.9 L844.9,1166.5 L846.1,1164.9 L847.3,1172.4 L848.5,1173.3 L849.8,1163.4 L851.0,1163.4 L852.2,1174.3 L853.4,1164.2 L854.6,1167.6 L855.8,1165.3 L857.0,1164.3 L858.2,1160.1 L859.4,1171.6 L860.6,1168.7 L861.8,1163.2 L863.0,1169.9 L864.2,1166.5 L865.4,1168.8 L866.6,1175.9 L867.8,1170.8 L869.0,1164.7 L870.2,1171.2 L871.4,1175.7 L872.6,1171.3 L873.9,1168.6 L875.1,1167.2 L876.3,1168.0 L877.5,1167.3 L878.7,1174.7 L879.9,1173.1 L881.1,1174.4 L882.3,1173.0 L883.5,1169.7 L884.7,1165.8 L885.9,1173.3 L887.1,1167.9 L888.3,1167.7 L889.5,1177.8 L890.7,1176.5 L891.9,1172.6 L893.1,1179.7 L894.3,1165.6 L895.5,1183.0 L896.7,1180.5 L897.9,1171.8 L899.2,1178.8 L900.4,1172.4 L901.6,1180.2 L902.8,1171.4 L904.0,1179.0 L905.2,1173.6 L906.4,1172.5 L907.6,1184.1 L908.8,1181.6 L910.0,1185.2 L911.2,1182.2 L912.4,1173.2 L913.6,1177.5 L914.8,1174.1 L916.0,1171.4 L917.2,1172.9 L918.4,1174.5 L919.6,1180.1 L920.8,1180.1 L922.0,1176.8 L923.3,1174.3 L924.5,1173.5 L925.7,1176.8 L926.9,1179.5 L928.1,1178.1 L929.3,1170.4 L930.5,1176.4 L931.7,1168.9 L932.9,1180.4 L934.1,1173.3 L935.3,1175.8 L936.5,1173.1 L937.7,1179.8 L938.9,1175.0 L940.1,1177.0 L941.3,1178.1 L942.5,1182.3 L943.7,1183.4 L944.9,1178.6 L946.1,1174.4 L947.3,1175.9 L948.6,1175.8 L949.8,1175.4 L951.0,1182.8 L952.2,1171.8 L953.4,1176.4 L954.6,1179.6 L955.8,1178.9 L957.0,1171.8 L958.2,1175.4 L959.4,1183.6 L960.6,1166.7 L961.8,1182.2 L963.0,1168.2 L964.2,1171.9 L965.4,1180.0 L966.6,1169.5 L967.8,1169.4 L969.0,1169.9 L970.2,1171.6 L971.4,1173.0 L972.7,1173.4 L973.9,1176.5 L975.1,1172.4 L976.3,1167.8 L977.5,1173.4 L978.7,1164.1 L979.9,1179.7 L981.1,1172.3 L982.3,1179.0 L983.5,1180.0 L984.7,1171.0 L985.9,1173.2 L987.1,1174.3 L988.3,1176.5 L989.5,1172.7 L990.7,1178.7 L991.9,1172.3 L993.1,1173.4 L994.3,1176.4 L995.5,1168.6 L996.7,1179.0 L998.0,1168.8 L999.2,1169.1 L1000.4,1167.3 L1001.6,1168.7 L1002.8,1165.3 L1004.0,1169.6 L1005.2,1173.3 L1006.4,1166.8 L1007.6,1172.3 L1008.8,1170.3 L1010.0,1167.9 L1011.2,1172.5 L1012.4,1163.9 L1013.6,1175.3 L1014.8,1162.8 L1016.0,1168.4 L1017.2,1160.5 L1018.4,1163.4 L1019.6,1165.4 L1020.8,1167.1 L1022.1,1168.4 L1023.3,1175.1 L1024.5,1171.6 L1025.7,1173.4 L1026.9,1172.4 L1028.1,1169.8 L1029.3,1173.0 L1030.5,1169.7 L1031.7,1171.9 L1032.9,1173.1 L1034.1,1169.7 L1035.3,1169.6 L1036.5,1177.9 L1037.7,1173.4 L1038.9,1158.9 L1040.1,1172.4 L1041.3,1170.7 L1042.5,1177.0 L1043.7,1168.7 L1044.9,1166.6 L1046.1,1171.2 L1047.4,1175.0 L1048.6,1174.6 L1049.8,1183.1 L1051.0,1172.3 L1052.2,1176.4 L1053.4,1173.7 L1054.6,1174.2 L1055.8,1175.2 L1057.0,1167.0 L1058.2,1172.4 L1059.4,1179.8 L1060.6,1174.5 L1061.8,1174.4 L1063.0,1177.1 L1064.2,1171.1 L1065.4,1179.2 L1066.6,1185.5 L1067.8,1182.7 L1069.0,1176.7 L1070.2,1182.8 L1071.5,1177.7 L1072.7,1185.4 L1073.9,1176.9 L1075.1,1179.6 L1076.3,1182.4 L1077.5,1180.8 L1078.7,1179.6 L1079.9,1174.4 L1081.1,1177.5 L1082.3,1179.2 L1083.5,1177.3 L1084.7,1173.7 L1085.9,1175.8 L1087.1,1170.5 L1088.3,1181.3 L1089.5,1174.4 L1090.7,1177.2 L1091.9,1180.5 L1093.1,1175.2 L1094.3,1174.3 L1095.5,1173.5 L1096.8,1175.8 L1098.0,1181.7 L1099.2,1176.9 L1100.4,1175.6 L1101.6,1169.9 L1102.8,1176.2 L1104.0,1175.9 L1105.2,1169.4 L1106.4,1175.8 L1107.6,1177.9 L1108.8,1174.3 L1110.0,1171.9 L1111.2,1174.2 L1112.4,1182.5 L1113.6,1176.6 L1114.8,1170.4 L1116.0,1178.0 L1117.2,1170.5 L1118.4,1173.4 L1119.6,1177.4 L1120.9,1170.0 L1122.1,1183.2 L1123.3,1182.6 L1124.5,1179.7 L1125.7,1170.2 L1126.9,1173.1 L1128.1,1168.7 L1129.3,1171.2 L1130.5,1170.3 L1131.7,1173.0 L1132.9,1172.3 L1134.1,1166.0 L1135.3,1167.0 L1136.5,1176.6 L1137.7,1167.7 L1138.9,1161.0 L1140.1,1166.5 L1141.3,1174.0 L1142.5,1166.1 L1143.7,1168.5 L1144.9,1170.6 L1146.2,1164.7 L1147.4,1163.4 L1148.6,1171.2 L1149.8,1168.2 L1151.0,1170.3 L1152.2,1168.6 L1153.4,1161.6 L1154.6,1170.6 L1155.8,1166.3 L1157.0,1167.8 L1158.2,1168.6 L1159.4,1174.1 L1160.6,1166.1 L1161.8,1173.7 L1163.0,1165.8 L1164.2,1169.8 L1165.4,1168.9 L1166.6,1171.5 L1167.8,1173.1 L1169.0,1173.9 L1170.3,1169.7 L1171.5,1170.7 L1172.7,1169.2 L1173.9,1172.3 L1175.1,1167.7 L1176.3,1170.9 L1177.5,1170.9 L1178.7,1172.8 L1179.9,1171.7 L1181.1,1169.2 L1182.3,1175.1 L1183.5,1177.4 L1184.7,1170.8 L1185.9,1170.5 L1187.1,1172.4 L1188.3,1171.8 L1189.5,1178.9 L1190.7,1177.6 L1191.9,1173.4 L1193.1,1173.2 L1194.3,1178.5 L1195.6,1171.3 L1196.8,1181.8 L1198.0,1168.5 L1199.2,1178.8 L1200.4,1176.4 L1201.6,1178.3 L1202.8,1179.9 L1204.0,1175.1 L1205.2,1182.3 L1206.4,1175.2 L1207.6,1173.2 L1208.8,1175.4 L1210.0,1174.6 L1211.2,1180.7 L1212.4,1182.8 L1213.6,1180.7 L1214.8,1170.0 L1216.0,1173.3 L1217.2,1182.8 L1218.4,1167.5 L1219.7,1172.1 L1220.9,1170.6 L1222.1,1171.5 L1223.3,1170.6 L1224.5,1184.0 L1225.7,1176.4 L1226.9,1180.1 L1228.1,1168.1 L1229.3,1173.7 L1230.5,1177.2 L1231.7,1178.2 L1232.9,1186.2 L1234.1,1176.4 L1235.3,1180.7 L1236.5,1170.9 L1237.7,1173.7 L1238.9,1177.3 L1240.1,1178.4 L1241.3,1172.1 L1242.5,1179.4 L1243.7,1172.4 L1245.0,1176.4 L1246.2,1178.7 L1247.4,1175.9 L1248.6,1169.5 L1249.8,1184.4 L1251.0,1173.9 L1252.2,1173.5 L1253.4,1177.6 L1254.6,1170.0 L1255.8,1173.4 L1257.0,1173.9 L1258.2,1180.6 L1259.4,1173.4 L1260.6,1181.0 L1261.8,1173.1 L1263.0,1165.6 L1264.2,1179.1 L1265.4,1168.2 L1266.6,1179.5 L1267.8,1174.5 L1269.1,1171.4 L1270.3,1181.1 L1271.5,1173.2 L1272.7,1177.1 L1273.9,1176.4 L1275.1,1169.4 L1276.3,1173.4 L1277.5,1171.2 L1278.7,1173.0 L1279.9,1171.2 L1281.1,1165.6 L1282.3,1171.7 L1283.5,1173.6 L1284.7,1171.6 L1285.9,1168.0 L1287.1,1168.8 L1288.3,1180.1 L1289.5,1170.9 L1290.7,1168.7 L1291.9,1158.8 L1293.1,1173.1 L1294.4,1171.4 L1295.6,1175.2 L1296.8,1170.7 L1298.0,1178.0 L1299.2,1173.8 L1300.4,1170.2 L1301.6,1176.3 L1302.8,1171.1 L1304.0,1172.6 L1305.2,1163.9 L1306.4,1162.2 L1307.6,1159.6 L1308.8,1167.8 L1310.0,1165.3 L1311.2,1157.8 L1312.4,1171.1 L1313.6,1160.4 L1314.8,1172.3 L1316.0,1163.7 L1317.2,1175.4 L1318.5,1170.4 L1319.7,1169.6 L1320.9,1169.9 L1322.1,1177.6 L1323.3,1168.4 L1324.5,1170.3 L1325.7,1162.4 L1326.9,1166.5 L1328.1,1178.8 L1329.3,1168.6 L1330.5,1164.5 L1331.7,1169.6 L1332.9,1172.4 L1334.1,1175.6 L1335.3,1171.5 L1336.5,1174.1 L1337.7,1171.6 L1338.9,1171.9 L1340.1,1165.1 L1341.3,1175.4 L1342.5,1169.6 L1343.8,1176.2 L1345.0,1170.4 L1346.2,1167.2 L1347.4,1174.7 L1348.6,1177.5 L1349.8,1172.3 L1351.0,1172.2 L1352.2,1175.1 L1353.4,1170.7 L1354.6,1172.7 L1355.8,1170.3 L1357.0,1179.2 L1358.2,1169.9 L1359.4,1167.8 L1360.6,1177.1 L1361.8,1164.8 L1363.0,1172.6 L1364.2,1179.5 L1365.4,1179.0 L1366.6,1177.9 L1367.9,1177.6 L1369.1,1176.0 L1370.3,1174.1 L1371.5,1176.6 L1372.7,1177.2 L1373.9,1180.3 L1375.1,1185.3 L1376.3,1179.4 L1377.5,1181.7 L1378.7,1172.7 L1379.9,1187.4 L1381.1,1171.9 L1382.3,1189.8 L1383.5,1177.6 L1384.7,1176.5 L1385.9,1181.4 L1387.1,1180.8 L1388.3,1172.8 L1389.5,1181.4 L1390.7,1177.3 L1391.9,1177.0 L1393.2,1174.3 L1394.4,1183.1 L1395.6,1171.4 L1396.8,1177.9 L1398.0,1172.6 L1399.2,1183.7 L1400.4,1172.6 L1401.6,1177.6 L1402.8,1174.2 L1404.0,1180.4 L1405.2,1173.4 L1406.4,1176.8 L1407.6,1185.3 L1408.8,1165.6 L1410.0,1179.1 L1411.2,1173.9 L1412.4,1177.0 L1413.6,1178.6 L1414.8,1178.2 L1416.0,1172.0 L1417.3,1171.8 L1418.5,1171.6 L1419.7,1183.3 L1420.9,1172.0 L1422.1,1182.1 L1423.3,1164.8 L1424.5,1172.8 L1425.7,1169.0 L1426.9,1174.1 L1428.1,1173.5 L1429.3,1176.9 L1430.5,1164.0 L1431.7,1174.3 L1432.9,1167.4 L1434.1,1175.8 L1435.3,1172.5 L1436.5,1173.5 L1437.7,1172.0 L1438.9,1173.4 L1440.1,1168.4 L1441.3,1168.2 L1442.6,1178.0 L1443.8,1172.5 L1445.0,1176.4 L1446.2,1165.5 L1447.4,1175.9 L1448.6,1168.0 L1449.8,1169.1 L1451.0,1169.9 L1452.2,1178.3 L1453.4,1161.9 L1454.6,1170.1 L1455.8,1166.6 L1457.0,1164.9 L1458.2,1173.8 L1459.4,1173.6 L1460.6,1161.3 L1461.8,1160.2 L1463.0,1172.6 L1464.2,1169.4 L1465.4,1164.8 L1466.7,1169.8 L1467.9,1163.3 L1469.1,1166.6 L1470.3,1169.9 L1471.5,1166.5 L1472.7,1171.6 L1473.9,1163.5 L1475.1,1172.0 L1476.3,1163.6 L1477.5,1158.5 L1478.7,1177.3 L1479.9,1161.9 L1481.1,1176.0 L1482.3,1169.9 L1483.5,1161.5 L1484.7,1165.2 L1485.9,1167.1 L1487.1,1168.5 L1488.3,1169.4 L1489.5,1168.3 L1490.7,1171.7 L1492.0,1172.3 L1493.2,1176.6 L1494.4,1163.4 L1495.6,1171.7 L1496.8,1163.3 L1498.0,1168.4 L1499.2,1170.0 L1500.4,1177.1 L1501.6,1173.3 L1502.8,1172.2 L1504.0,1173.5 L1505.2,1174.5 L1506.4,1183.4 L1507.6,1175.4 L1508.8,1175.3 L1510.0,1176.7 L1511.2,1176.2 L1512.4,1182.2 L1513.6,1179.0 L1514.8,1168.7 L1516.1,1179.6 L1517.3,1178.1 L1518.5,1179.5 L1519.7,1176.5 L1520.9,1178.2 L1522.1,1166.9 L1523.3,1181.0 L1524.5,1170.8 L1525.7,1179.2 L1526.9,1175.2 L1528.1,1166.0 L1529.3,1177.5 L1530.5,1177.8 L1531.7,1191.4 L1532.9,1180.0 L1534.1,1179.3 L1535.3,1177.9 L1536.5,1177.8 L1537.7,1183.3 L1538.9,1182.6 L1540.1,1175.1 L1541.4,1179.7 L1542.6,1178.3 L1543.8,1175.6 L1545.0,1177.9 L1546.2,1177.6 L1547.4,1182.7 L1548.6,1177.7 L1549.8,1185.7 L1551.0,1170.2 L1552.2,1181.9 L1553.4,1171.0 L1554.6,1180.0 L1555.8,1178.5 L1557.0,1171.8 L1558.2,1176.7 L1559.4,1176.6 L1560.6,1178.2 L1561.8,1177.4 L1563.0,1179.5 L1564.2,1179.4 L1565.5,1183.7 L1566.7,1176.1 L1567.9,1178.8 L1569.1,1168.6 L1570.3,1164.8 L1571.5,1165.8 L1572.7,1179.2 L1573.9,1174.7 L1575.1,1174.1 L1576.3,1180.1 L1577.5,1166.2 L1578.7,1170.0 L1579.9,1171.8 L1581.1,1164.1 L1582.3,1170.1 L1583.5,1173.2 L1584.7,1170.2 L1585.9,1173.0 L1587.1,1168.3 L1588.3,1176.1 L1589.5,1168.0 L1590.8,1171.3 L1592.0,1171.9 L1593.2,1171.4 L1594.4,1170.7 L1595.6,1177.7 L1596.8,1166.8 L1598.0,1170.3 L1599.2,1161.6 L1600.4,1169.6 L1601.6,1165.0 L1602.8,1169.2 L1604.0,1169.9 L1605.2,1174.4 L1606.4,1170.8 L1607.6,1171.2 L1608.8,1179.1 L1610.0,1169.5 L1611.2,1171.0 L1612.4,1166.7 L1613.6,1163.5 L1614.9,1169.7 L1616.1,1162.8 L1617.3,1162.8 L1618.5,1164.9 L1619.7,1169.7 L1620.9,1167.9 L1622.1,1161.0 L1623.3,1161.9 L1624.5,1163.4 L1625.7,1176.1 L1626.9,1179.2 L1628.1,1161.5 L1629.3,1166.2 L1630.5,1163.6 L1631.7,1167.2 L1632.9,1171.7 L1634.1,1168.4 L1635.3,1170.7 L1636.5,1164.4 L1637.7,1167.5 L1638.9,1176.0 L1640.2,1175.4 L1641.4,1168.1 L1642.6,1169.0 L1643.8,1171.8 L1645.0,1171.8 L1646.2,1179.6 L1647.4,1178.4 L1648.6,1172.5 L1649.8,1183.3 L1651.0,1172.9 L1652.2,1172.7 L1653.4,1172.4 L1654.6,1171.6 L1655.8,1167.0 L1657.0,1174.2 L1658.2,1178.9 L1659.4,1182.7 L1660.6,1185.3 L1661.8,1175.2 L1663.0,1171.6 L1664.3,1183.5 L1665.5,1175.1 L1666.7,1178.6 L1667.9,1176.9 L1669.1,1175.0 L1670.3,1175.7 L1671.5,1181.1 L1672.7,1172.3 L1673.9,1176.2 L1675.1,1184.1 L1676.3,1172.4 L1677.5,1168.4 L1678.7,1177.0 L1679.9,1168.3 L1681.1,1182.9 L1682.3,1177.1 L1683.5,1169.9 L1684.7,1170.1 L1685.9,1173.9 L1687.1,1171.6 L1688.3,1178.5 L1689.6,1173.7 L1690.8,1172.6 L1692.0,1172.2 L1693.2,1174.7 L1694.4,1172.8 L1695.6,1174.6 L1696.8,1173.9 L1698.0,1183.2 L1699.2,1173.1 L1700.4,1180.1 L1701.6,1177.3 L1702.8,1175.0 L1704.0,1174.3 L1705.2,1181.4 L1706.4,1177.5 L1707.6,1174.3 L1708.8,1177.4 L1710.0,1175.2 L1711.2,1174.1 L1712.4,1174.0 L1713.7,1177.5 L1714.9,1174.0 L1716.1,1172.1 L1717.3,1180.0 L1718.5,1170.5 L1719.7,1178.2 L1720.9,1172.2 L1722.1,1171.5 L1723.3,1171.4 L1724.5,1179.3 L1725.7,1178.1 L1726.9,1179.5 L1728.1,1171.7 L1729.3,1173.5 L1730.5,1182.0 L1731.7,1170.3 L1732.9,1168.0 L1734.1,1175.2 L1735.3,1172.9 L1736.5,1171.2 L1737.8,1176.5" stroke="#000" stroke-width="7.8"/>
<path d="M231.7,1647.1 L232.9,1642.3 L234.1,1646.6 L235.3,1645.3 L236.5,1644.5 L237.7,1637.1 L238.9,1643.9 L240.1,1643.3 L241.3,1647.1 L242.5,1639.1 L243.7,1644.5 L244.9,1644.7 L246.1,1638.7 L247.3,1638.4 L248.5,1649.2 L249.7,1646.3 L250.9,1638.4 L252.1,1647.0 L253.3,1637.6 L254.5,1646.1 L255.7,1636.4 L257.0,1650.2 L258.2,1654.8 L259.4,1652.2 L260.6,1636.3 L261.8,1649.3 L263.0,1648.0 L264.2,1648.1 L265.4,1648.9 L266.6,1644.9 L267.8,1644.9 L269.0,1648.6 L270.2,1648.2 L271.4,1639.3 L272.6,1640.8 L273.8,1640.6 L275.0,1639.7 L276.2,1646.2 L277.4,1641.2 L278.6,1637.6 L279.8,1649.3 L281.1,1639.1 L282.3,1657.2 L283.5,1654.4 L284.7,1652.5 L285.9,1650.3 L287.1,1650.4 L288.3,1648.0 L289.5,1642.1 L290.7,1649.5 L291.9,1647.7 L293.1,1651.8 L294.3,1653.6 L295.5,1647.2 L296.7,1650.0 L297.9,1642.2 L299.1,1646.1 L300.3,1655.4 L301.5,1643.3 L302.7,1652.6 L303.9,1649.1 L305.1,1652.3 L306.4,1651.7 L307.6,1650.5 L308.8,1653.3 L310.0,1651.3 L311.2,1649.3 L312.4,1644.5 L313.6,1644.7 L314.8,1639.4 L316.0,1655.3 L317.2,1649.5 L318.4,1642.2 L319.6,1653.1 L320.8,1648.3 L322.0,1644.2 L323.2,1640.7 L324.4,1645.5 L325.6,1646.4 L326.8,1648.4 L328.0,1644.4 L329.2,1647.0 L330.5,1645.9 L331.7,1650.9 L332.9,1648.8 L334.1,1651.9 L335.3,1653.0 L336.5,1651.6 L337.7,1651.4 L338.9,1650.6 L340.1,1650.1 L341.3,1654.7 L342.5,1646.1 L343.7,1645.9 L344.9,1639.9 L346.1,1658.5 L347.3,1654.4 L348.5,1652.4 L349.7,1651.8 L350.9,1647.5 L352.1,1652.0 L353.3,1651.4 L354.5,1644.1 L355.8,1648.3 L357.0,1654.8 L358.2,1642.8 L359.4,1636.4 L360.6,1641.7 L361.8,1647.4 L363.0,1640.0 L364.2,1647.1 L365.4,1648.3 L366.6,1645.4 L367.8,1640.5 L369.0,1646.1 L370.2,1647.8 L371.4,1653.0 L372.6,1645.4 L373.8,1651.4 L375.0,1646.8 L376.2,1653.0 L377.4,1650.1 L378.6,1650.1 L379.9,1648.7 L381.1,1650.7 L382.3,1639.0 L383.5,1641.2 L384.7,1646.5 L385.9,1650.0 L387.1,1640.0 L388.3,1645.9 L389.5,1642.0 L390.7,1639.8 L391.9,1646.7 L393.1,1642.5 L394.3,1642.3 L395.5,1646.1 L396.7,1644.6 L397.9,1646.5 L399.1,1659.7 L400.3,1645.6 L401.5,1636.0 L402.7,1639.2 L403.9,1631.2 L405.2,1643.5 L406.4,1640.0 L407.6,1647.0 L408.8,1647.8 L410.0,1648.6 L411.2,1642.3 L412.4,1640.8 L413.6,1653.2 L414.8,1640.9 L416.0,1639.6 L417.2,1640.2 L418.4,1650.2 L419.6,1643.2 L420.8,1642.5 L422.0,1650.4 L423.2,1649.7 L424.4,1634.2 L425.6,1648.0 L426.8,1647.7 L428.0,1654.8 L429.3,1648.5 L430.5,1639.5 L431.7,1643.9 L432.9,1649.6 L434.1,1645.2 L435.3,1643.8 L436.5,1642.6 L437.7,1650.2 L438.9,1644.1 L440.1,1648.6 L441.3,1648.3 L442.5,1650.4 L443.7,1650.7 L444.9,1644.8 L446.1,1655.6 L447.3,1646.6 L448.5,1635.1 L449.7,1652.2 L450.9,1649.8 L452.1,1648.9 L453.3,1641.1 L454.6,1655.2 L455.8,1646.1 L457.0,1649.1 L458.2,1639.7 L459.4,1649.9 L460.6,1639.4 L461.8,1653.4 L463.0,1647.4 L464.2,1654.5 L465.4,1652.2 L466.6,1655.6 L467.8,1651.6 L469.0,1642.5 L470.2,1652.6 L471.4,1638.4 L472.6,1642.2 L473.8,1648.2 L475.0,1649.4 L476.2,1648.1 L477.4,1653.1 L478.7,1646.6 L479.9,1649.0 L481.1,1658.5 L482.3,1649.4 L483.5,1646.9 L484.7,1649.2 L485.9,1647.5 L487.1,1649.0 L488.3,1651.0 L489.5,1644.3 L490.7,1642.7 L491.9,1650.8 L493.1,1645.3 L494.3,1654.1 L495.5,1642.7 L496.7,1652.1 L497.9,1648.1 L499.1,1643.6 L500.3,1650.6 L501.5,1647.9 L502.7,1643.4 L504.0,1650.8 L505.2,1646.3 L506.4,1642.5 L507.6,1646.4 L508.8,1651.1 L510.0,1649.4 L511.2,1648.6 L512.4,1647.0 L513.6,1644.2 L514.8,1654.2 L516.0,1647.1 L517.2,1645.7 L518.4,1639.7 L519.6,1652.7 L520.8,1650.0 L522.0,1641.4 L523.2,1646.2 L524.4,1640.7 L525.6,1646.2 L526.8,1648.8 L528.1,1645.7 L529.3,1639.3 L530.5,1641.5 L531.7,1644.1 L532.9,1644.7 L534.1,1640.2 L535.3,1642.6 L536.5,1644.5 L537.7,1641.7 L538.9,1644.5 L540.1,1650.0 L541.3,1640.5 L542.5,1638.9 L543.7,1637.8 L544.9,1644.6 L546.1,1650.1 L547.3,1642.4 L548.5,1646.7 L549.7,1652.8 L550.9,1643.1 L552.1,1647.4 L553.4,1643.1 L554.6,1645.5 L555.8,1639.5 L557.0,1639.3 L558.2,1641.0 L559.4,1638.0 L560.6,1646.1 L561.8,1632.1 L563.0,1650.7 L564.2,1639.0 L565.4,1637.6 L566.6,1644.2 L567.8,1642.5 L569.0,1648.7 L570.2,1645.3 L571.4,1641.9 L572.6,1649.1 L573.8,1652.4 L575.0,1645.1 L576.2,1647.4 L577.5,1648.3 L578.7,1644.8 L579.9,1650.6 L581.1,1639.5 L582.3,1639.5 L583.5,1645.1 L584.7,1648.2 L585.9,1646.2 L587.1,1646.9 L588.3,1650.5 L589.5,1650.0 L590.7,1645.0 L591.9,1651.4 L593.1,1650.5 L594.3,1649.6 L595.5,1652.2 L596.7,1646.8 L597.9,1653.8 L599.1,1643.9 L600.3,1644.8 L601.5,1648.2 L602.8,1644.4 L604.0,1643.3 L605.2,1650.6 L606.4,1649.4 L607.6,1651.8 L608.8,1650.7 L610.0,1651.0 L611.2,1648.8 L612.4,1646.9 L613.6,1639.2 L614.8,1647.8 L616.0,1644.7 L617.2,1649.9 L618.4,1641.2 L619.6,1648.2 L620.8,1649.6 L622.0,1650.1 L623.2,1648.5 L624.4,1650.9 L625.6,1648.4 L626.9,1640.8 L628.1,1648.7 L629.3,1652.6 L630.5,1657.9 L631.7,1650.3 L632.9,1654.3 L634.1,1653.3 L635.3,1648.8 L636.5,1648.0 L637.7,1647.4 L638.9,1644.3 L640.1,1653.4 L641.3,1652.0 L642.5,1652.7 L643.7,1653.4 L644.9,1651.6 L646.1,1652.1 L647.3,1645.1 L648.5,1653.3 L649.7,1638.0 L650.9,1657.6 L652.2,1644.2 L653.4,1655.3 L654.6,1650.0 L655.8,1653.2 L657.0,1647.6 L658.2,1645.3 L659.4,1649.3 L660.6,1650.0 L661.8,1651.1 L663.0,1650.5 L664.2,1650.6 L665.4,1649.7 L666.6,1645.7 L667.8,1642.0 L669.0,1649.3 L670.2,1655.6 L671.4,1647.8 L672.6,1642.2 L673.8,1650.3 L675.0,1644.1 L676.3,1651.3 L677.5,1651.9 L678.7,1645.1 L679.9,1654.8 L681.1,1648.0 L682.3,1658.7 L683.5,1651.1 L684.7,1644.6 L685.9,1648.3 L687.1,1649.5 L688.3,1643.7 L689.5,1650.2 L690.7,1651.3 L691.9,1648.0 L693.1,1645.9 L694.3,1644.8 L695.5,1646.3 L696.7,1640.2 L697.9,1642.7 L699.1,1645.8 L700.3,1634.9 L701.6,1652.6 L702.8,1644.6 L704.0,1649.0 L705.2,1635.4 L706.4,1643.9 L707.6,1641.2 L708.8,1643.1 L710.0,1637.9 L711.2,1647.0 L712.4,1640.0 L713.6,1651.8 L714.8,1641.2 L716.0,1639.1 L717.2,1640.0 L718.4,1641.2 L719.6,1652.6 L720.8,1643.9 L722.0,1645.7 L723.2,1637.6 L724.4,1642.1 L725.7,1641.8 L726.9,1638.8 L728.1,1642.8 L729.3,1651.8 L730.5,1649.1 L731.7,1654.8 L732.9,1639.7 L734.1,1646.3 L735.3,1651.6 L736.5,1643.8 L737.7,1648.2 L738.9,1647.8 L740.1,1640.7 L741.3,1656.4 L742.5,1654.1 L743.7,1647.9 L744.9,1649.1 L746.1,1642.4 L747.3,1649.4 L748.5,1645.5 L749.7,1640.0 L751.0,1654.3 L752.2,1654.7 L753.4,1651.4 L754.6,1649.5 L755.8,1653.6 L757.0,1647.5 L758.2,1651.9 L759.4,1643.3 L760.6,1646.4 L761.8,1645.8 L763.0,1648.0 L764.2,1648.1 L765.4,1656.6 L766.6,1650.3 L767.8,1657.2 L769.0,1643.0 L770.2,1654.4 L771.4,1653.3 L772.6,1651.2 L773.8,1639.1 L775.1,1653.7 L776.3,1641.6 L777.5,1648.3 L778.7,1637.1 L779.9,1649.8 L781.1,1651.0 L782.3,1648.7 L783.5,1651.2 L784.7,1651.9 L785.9,1645.5 L787.1,1650.9 L788.3,1644.9 L789.5,1646.0 L790.7,1644.3 L791.9,1641.5 L793.1,1643.4 L794.3,1652.7 L795.5,1642.2 L796.7,1659.4 L797.9,1642.6 L799.1,1642.7 L800.4,1653.1 L801.6,1642.4 L802.8,1657.0 L804.0,1643.4 L805.2,1650.0 L806.4,1649.1 L807.6,1648.7 L808.8,1650.4 L810.0,1644.6 L811.2,1648.2 L812.4,1648.1 L813.6,1647.4 L814.8,1648.9 L816.0,1651.8 L817.2,1644.4 L818.4,1643.2 L819.6,1652.4 L820.8,1642.4 L822.0,1640.5 L823.2,1645.6 L824.5,1639.4 L825.7,1655.8 L826.9,1639.6 L828.1,1648.7 L829.3,1643.4 L830.5,1648.6 L831.7,1633.0 L832.9,1645.7 L834.1,1641.0 L835.3,1650.6 L836.5,1645.3 L837.7,1641.9 L838.9,1644.3 L840.1,1647.0 L841.3,1636.8 L842.5,1650.6 L843.7,1643.2 L844.9,1644.5 L846.1,1645.1 L847.3,1640.1 L848.5,1642.1 L849.8,1643.9 L851.0,1640.1 L852.2,1643.8 L853.4,1641.2 L854.6,1637.8 L855.8,1642.5 L857.0,1643.2 L858.2,1646.4 L859.4,1637.6 L860.6,1639.7 L861.8,1641.4 L863.0,1642.8 L864.2,1648.3 L865.4,1644.2 L866.6,1643.0 L867.8,1649.6 L869.0,1648.8 L870.2,1645.1 L871.4,1635.7 L872.6,1642.9 L873.9,1651.4 L875.1,1638.9 L876.3,1640.9 L877.5,1641.9 L878.7,1647.9 L879.9,1645.9 L881.1,1635.4 L882.3,1640.5 L883.5,1624.6 L884.7,1654.1 L885.9,1653.4 L887.1,1648.3 L888.3,1650.5 L889.5,1649.5 L890.7,1643.4 L891.9,1640.9 L893.1,1653.5 L894.3,1644.4 L895.5,1643.3 L896.7,1646.5 L897.9,1641.5 L899.2,1642.5 L900.4,1651.5 L901.6,1647.5 L902.8,1647.1 L904.0,1653.9 L905.2,1649.8 L906.4,1644.1 L907.6,1647.1 L908.8,1648.4 L910.0,1636.8 L911.2,1645.8 L912.4,1644.3 L913.6,1652.7 L914.8,1643.0 L916.0,1650.5 L917.2,1649.2 L918.4,1650.2 L919.6,1654.5 L920.8,1646.0 L922.0,1654.6 L923.3,1645.4 L924.5,1652.8 L925.7,1643.3 L926.9,1647.7 L928.1,1644.1 L929.3,1654.4 L930.5,1646.7 L931.7,1645.6 L932.9,1647.6 L934.1,1649.3 L935.3,1651.4 L936.5,1663.5 L937.7,1646.1 L938.9,1654.3 L940.1,1653.2 L941.3,1646.9 L942.5,1660.6 L943.7,1652.2 L944.9,1645.8 L946.1,1648.7 L947.3,1650.0 L948.6,1652.9 L949.8,1648.3 L951.0,1656.1 L952.2,1651.1 L953.4,1644.2 L954.6,1651.7 L955.8,1648.0 L957.0,1648.8 L958.2,1652.9 L959.4,1656.4 L960.6,1651.3 L961.8,1650.9 L963.0,1652.0 L964.2,1647.5 L965.4,1645.3 L966.6,1644.1 L967.8,1645.2 L969.0,1652.7 L970.2,1640.7 L971.4,1645.1 L972.7,1643.3 L973.9,1652.3 L975.1,1640.9 L976.3,1635.4 L977.5,1643.4 L978.7,1640.3 L979.9,1648.3 L981.1,1644.8 L982.3,1645.8 L983.5,1642.6 L984.7,1645.1 L985.9,1644.5 L987.1,1649.9 L988.3,1651.1 L989.5,1645.4 L990.7,1633.6 L991.9,1649.7 L993.1,1642.8 L994.3,1638.8 L995.5,1648.2 L996.7,1652.4 L998.0,1642.9 L999.2,1644.6 L1000.4,1648.3 L1001.6,1637.4 L1002.8,1641.2 L1004.0,1644.8 L1005.2,1651.1 L1006.4,1638.8 L1007.6,1639.3 L1008.8,1640.4 L1010.0,1636.6 L1011.2,1649.0 L1012.4,1648.9 L1013.6,1640.1 L1014.8,1642.3 L1016.0,1644.5 L1017.2,1646.8 L1018.4,1639.7 L1019.6,1643.2 L1020.8,1640.0 L1022.1,1649.4 L1023.3,1643.7 L1024.5,1642.0 L1025.7,1639.2 L1026.9,1651.8 L1028.1,1645.3 L1029.3,1646.9 L1030.5,1644.1 L1031.7,1644.9 L1032.9,1642.1 L1034.1,1640.1 L1035.3,1642.4 L1036.5,1643.9 L1037.7,1639.5 L1038.9,1637.4 L1040.1,1643.5 L1041.3,1647.4 L1042.5,1635.5 L1043.7,1639.7 L1044.9,1634.0 L1046.1,1645.9 L1047.4,1645.8 L1048.6,1644.6 L1049.8,1644.2 L1051.0,1651.2 L1052.2,1640.3 L1053.4,1651.2 L1054.6,1657.4 L1055.8,1645.0 L1057.0,1650.0 L1058.2,1643.9 L1059.4,1651.2 L1060.6,1652.2 L1061.8,1655.9 L1063.0,1652.5 L1064.2,1648.2 L1065.4,1637.0 L1066.6,1644.3 L1067.8,1650.8 L1069.0,1641.3 L1070.2,1646.7 L1071.5,1656.7 L1072.7,1656.2 L1073.9,1655.2 L1075.1,1650.8 L1076.3,1648.1 L1077.5,1651.1 L1078.7,1650.9 L1079.9,1653.2 L1081.1,1647.7 L1082.3,1645.3 L1083.5,1654.4 L1084.7,1643.7 L1085.9,1653.2 L1087.1,1650.5 L1088.3,1641.7 L1089.5,1646.8 L1090.7,1649.2 L1091.9,1658.0 L1093.1,1648.5 L1094.3,1650.3 L1095.5,1650.0 L1096.8,1643.6 L1098.0,1651.3 L1099.2,1640.8 L1100.4,1649.1 L1101.6,1648.5 L1102.8,1651.0 L1104.0,1648.8 L1105.2,1642.6 L1106.4,1647.9 L1107.6,1653.8 L1108.8,1652.8 L1110.0,1643.6 L1111.2,1646.7 L1112.4,1653.0 L1113.6,1649.2 L1114.8,1648.1 L1116.0,1645.7 L1117.2,1652.8 L1118.4,1647.3 L1119.6,1653.5 L1120.9,1650.8 L1122.1,1648.3 L1123.3,1641.0 L1124.5,1647.9 L1125.7,1639.5 L1126.9,1645.2 L1128.1,1640.4 L1129.3,1647.0 L1130.5,1654.3 L1131.7,1655.9 L1132.9,1647.5 L1134.1,1636.9 L1135.3,1646.2 L1136.5,1647.8 L1137.7,1642.4 L1138.9,1646.9 L1140.1,1646.7 L1141.3,1643.8 L1142.5,1642.8 L1143.7,1647.5 L1144.9,1648.2 L1146.2,1636.9 L1147.4,1648.3 L1148.6,1648.5 L1149.8,1645.4 L1151.0,1645.4 L1152.2,1642.8 L1153.4,1636.7 L1154.6,1637.9 L1155.8,1644.2 L1157.0,1643.5 L1158.2,1639.9 L1159.4,1645.0 L1160.6,1643.7 L1161.8,1649.8 L1163.0,1643.0 L1164.2,1645.4 L1165.4,1651.6 L1166.6,1643.6 L1167.8,1634.5 L1169.0,1643.3 L1170.3,1648.8 L1171.5,1639.0 L1172.7,1643.1 L1173.9,1643.8 L1175.1,1637.8 L1176.3,1640.9 L1177.5,1635.7 L1178.7,1649.4 L1179.9,1647.3 L1181.1,1645.5 L1182.3,1644.6 L1183.5,1651.3 L1184.7,1644.6 L1185.9,1652.1 L1187.1,1648.2 L1188.3,1646.5 L1189.5,1644.1 L1190.7,1644.1 L1191.9,1649.2 L1193.1,1643.7 L1194.3,1644.2 L1195.6,1646.0 L1196.8,1645.4 L1198.0,1648.2 L1199.2,1637.5 L1200.4,1639.7 L1201.6,1645.3 L1202.8,1640.2 L1204.0,1650.8 L1205.2,1649.6 L1206.4,1648.6 L1207.6,1644.9 L1208.8,1648.6 L1210.0,1651.5 L1211.2,1654.6 L1212.4,1653.0 L1213.6,1643.0 L1214.8,1645.1 L1216.0,1654.3 L1217.2,1639.0 L1218.4,1650.2 L1219.7,1650.4 L1220.9,1648.9 L1222.1,1647.5 L1223.3,1650.0 L1224.5,1648.2 L1225.7,1644.9 L1226.9,1644.2 L1228.1,1651.4 L1229.3,1649.1 L1230.5,1652.0 L1231.7,1650.6 L1232.9,1649.0 L1234.1,1649.9 L1235.3,1645.4 L1236.5,1652.4 L1237.7,1646.4 L1238.9,1644.8 L1240.1,1650.0 L1241.3,1649.6 L1242.5,1645.1 L1243.7,1649.9 L1245.0,1649.9 L1246.2,1647.6 L1247.4,1660.1 L1248.6,1645.3 L1249.8,1647.1 L1251.0,1645.7 L1252.2,1654.9 L1253.4,1650.1 L1254.6,1646.0 L1255.8,1645.1 L1257.0,1650.7 L1258.2,1650.0 L1259.4,1640.8 L1260.6,1646.6 L1261.8,1641.8 L1263.0,1653.8 L1264.2,1645.3 L1265.4,1649.9 L1266.6,1649.7 L1267.8,1641.1 L1269.1,1652.0 L1270.3,1651.1 L1271.5,1650.2 L1272.7,1647.9 L1273.9,1646.7 L1275.1,1644.9 L1276.3,1640.9 L1277.5,1644.6 L1278.7,1638.3 L1279.9,1641.5 L1281.1,1643.5 L1282.3,1647.0 L1283.5,1639.7 L1284.7,1647.6 L1285.9,1641.6 L1287.1,1645.8 L1288.3,1648.7 L1289.5,1642.5 L1290.7,1642.4 L1291.9,1644.2 L1293.1,1640.6 L1294.4,1645.0 L1295.6,1648.8 L1296.8,1645.0 L1298.0,1636.4 L1299.2,1649.6 L1300.4,1653.5 L1301.6,1644.9 L1302.8,1649.8 L1304.0,1638.6 L1305.2,1644.0 L1306.4,1649.1 L1307.6,1645.2 L1308.8,1649.1 L1310.0,1642.2 L1311.2,1640.3 L1312.4,1639.0 L1313.6,1639.8 L1314.8,1644.8 L1316.0,1638.9 L1317.2,1642.2 L1318.5,1650.2 L1319.7,1637.9 L1320.9,1648.7 L1322.1,1647.2 L1323.3,1651.9 L1324.5,1648.6 L1325.7,1654.6 L1326.9,1650.4 L1328.1,1648.8 L1329.3,1650.2 L1330.5,1646.6 L1331.7,1641.1 L1332.9,1646.2 L1334.1,1642.8 L1335.3,1639.7 L1336.5,1647.5 L1337.7,1637.7 L1338.9,1645.0 L1340.1,1645.3 L1341.3,1643.1 L1342.5,1638.6 L1343.8,1650.9 L1345.0,1640.9 L1346.2,1648.1 L1347.4,1645.6 L1348.6,1651.2 L1349.8,1658.4 L1351.0,1640.7 L1352.2,1642.8 L1353.4,1651.7 L1354.6,1651.3 L1355.8,1652.9 L1357.0,1647.3 L1358.2,1637.9 L1359.4,1648.5 L1360.6,1655.7 L1361.8,1644.3 L1363.0,1652.3 L1364.2,1655.6 L1365.4,1646.2 L1366.6,1648.3 L1367.9,1647.8 L1369.1,1645.4 L1370.3,1644.5 L1371.5,1659.0 L1372.7,1648.4 L1373.9,1644.0 L1375.1,1643.7 L1376.3,1654.0 L1377.5,1657.8 L1378.7,1654.3 L1379.9,1647.7 L1381.1,1650.6 L1382.3,1645.8 L1383.5,1650.2 L1384.7,1655.2 L1385.9,1654.2 L1387.1,1650.6 L1388.3,1645.4 L1389.5,1642.3 L1390.7,1654.1 L1391.9,1647.6 L1393.2,1649.9 L1394.4,1654.9 L1395.6,1655.0 L1396.8,1642.1 L1398.0,1651.0 L1399.2,1649.4 L1400.4,1646.4 L1401.6,1647.0 L1402.8,1645.2 L1404.0,1652.1 L1405.2,1650.0 L1406.4,1647.1 L1407.6,1646.4 L1408.8,1651.5 L1410.0,1655.8 L1411.2,1644.0 L1412.4,1643.7 L1413.6,1643.2 L1414.8,1648.2 L1416.0,1656.1 L1417.3,1649.3 L1418.5,1637.7 L1419.7,1645.7 L1420.9,1646.1 L1422.1,1654.6 L1423.3,1649.9 L1424.5,1642.2 L1425.7,1645.1 L1426.9,1647.3 L1428.1,1641.0 L1429.3,1643.5 L1430.5,1644.5 L1431.7,1647.7 L1432.9,1645.0 L1434.1,1642.0 L1435.3,1645.3 L1436.5,1652.5 L1437.7,1647.6 L1438.9,1647.8 L1440.1,1644.4 L1441.3,1640.0 L1442.6,1646.2 L1443.8,1647.9 L1445.0,1642.3 L1446.2,1643.3 L1447.4,1649.2 L1448.6,1643.4 L1449.8,1645.0 L1451.0,1643.7 L1452.2,1652.2 L1453.4,1654.3 L1454.6,1652.3 L1455.8,1653.3 L1457.0,1640.8 L1458.2,1640.4 L1459.4,1650.9 L1460.6,1637.9 L1461.8,1650.1 L1463.0,1648.6 L1464.2,1634.7 L1465.4,1651.2 L1466.7,1641.7 L1467.9,1640.8 L1469.1,1639.4 L1470.3,1641.7 L1471.5,1643.7 L1472.7,1638.0 L1473.9,1645.9 L1475.1,1645.1 L1476.3,1644.1 L1477.5,1647.6 L1478.7,1647.1 L1479.9,1640.4 L1481.1,1639.0 L1482.3,1643.9 L1483.5,1647.4 L1484.7,1649.3 L1485.9,1648.8 L1487.1,1648.8 L1488.3,1649.6 L1489.5,1648.1 L1490.7,1648.9 L1492.0,1643.1 L1493.2,1654.8 L1494.4,1650.1 L1495.6,1643.9 L1496.8,1649.9 L1498.0,1650.2 L1499.2,1645.6 L1500.4,1648.6 L1501.6,1652.7 L1502.8,1647.5 L1504.0,1645.2 L1505.2,1655.9 L1506.4,1643.5 L1507.6,1656.1 L1508.8,1644.7 L1510.0,1654.3 L1511.2,1646.9 L1512.4,1648.0 L1513.6,1643.3 L1514.8,1648.2 L1516.1,1650.1 L1517.3,1651.6 L1518.5,1647.1 L1519.7,1649.2 L1520.9,1643.8 L1522.1,1645.9 L1523.3,1642.0 L1524.5,1644.5 L1525.7,1647.5 L1526.9,1648.7 L1528.1,1645.6 L1529.3,1645.3 L1530.5,1654.9 L1531.7,1647.0 L1532.9,1650.6 L1534.1,1647.2 L1535.3,1645.2 L1536.5,1657.9 L1537.7,1649.2 L1538.9,1643.9 L1540.1,1656.7 L1541.4,1647.6 L1542.6,1648.9 L1543.8,1651.2 L1545.0,1644.3 L1546.2,1644.1 L1547.4,1648.2 L1548.6,1641.6 L1549.8,1641.2 L1551.0,1647.3 L1552.2,1644.3 L1553.4,1644.2 L1554.6,1640.2 L1555.8,1644.3 L1557.0,1645.2 L1558.2,1647.7 L1559.4,1644.7 L1560.6,1640.8 L1561.8,1648.4 L1563.0,1648.5 L1564.2,1652.4 L1565.5,1635.8 L1566.7,1649.8 L1567.9,1650.2 L1569.1,1650.6 L1570.3,1642.5 L1571.5,1646.1 L1572.7,1657.3 L1573.9,1647.3 L1575.1,1639.4 L1576.3,1648.2 L1577.5,1647.3 L1578.7,1634.4 L1579.9,1649.0 L1581.1,1648.6 L1582.3,1644.4 L1583.5,1635.5 L1584.7,1644.6 L1585.9,1653.9 L1587.1,1646.7 L1588.3,1646.9 L1589.5,1642.0 L1590.8,1647.0 L1592.0,1644.6 L1593.2,1651.1 L1594.4,1651.0 L1595.6,1644.7 L1596.8,1636.9 L1598.0,1649.1 L1599.2,1651.6 L1600.4,1638.6 L1601.6,1642.2 L1602.8,1640.2 L1604.0,1644.7 L1605.2,1642.7 L1606.4,1644.2 L1607.6,1643.9 L1608.8,1635.3 L1610.0,1645.3 L1611.2,1645.3 L1612.4,1643.8 L1613.6,1644.9 L1614.9,1636.4 L1616.1,1645.0 L1617.3,1642.1 L1618.5,1649.6 L1619.7,1641.3 L1620.9,1640.9 L1622.1,1641.1 L1623.3,1652.0 L1624.5,1647.1 L1625.7,1656.7 L1626.9,1636.6 L1628.1,1645.0 L1629.3,1637.3 L1630.5,1635.6 L1631.7,1639.9 L1632.9,1647.6 L1634.1,1645.5 L1635.3,1640.9 L1636.5,1653.8 L1637.7,1638.2 L1638.9,1637.8 L1640.2,1640.7 L1641.4,1646.4 L1642.6,1643.3 L1643.8,1652.7 L1645.0,1649.3 L1646.2,1647.2 L1647.4,1648.7 L1648.6,1637.5 L1649.8,1643.5 L1651.0,1657.3 L1652.2,1640.6 L1653.4,1643.8 L1654.6,1647.5 L1655.8,1649.5 L1657.0,1636.5 L1658.2,1645.2 L1659.4,1645.2 L1660.6,1654.2 L1661.8,1649.7 L1663.0,1642.7 L1664.3,1646.5 L1665.5,1649.1 L1666.7,1648.7 L1667.9,1654.9 L1669.1,1659.1 L1670.3,1645.3 L1671.5,1654.7 L1672.7,1655.0 L1673.9,1646.0 L1675.1,1643.7 L1676.3,1649.5 L1677.5,1642.8 L1678.7,1648.0 L1679.9,1663.2 L1681.1,1640.8 L1682.3,1653.5 L1683.5,1640.8 L1684.7,1649.6 L1685.9,1648.9 L1687.1,1650.6 L1688.3,1652.9 L1689.6,1644.9 L1690.8,1639.9 L1692.0,1641.7 L1693.2,1650.7 L1694.4,1645.9 L1695.6,1643.3 L1696.8,1645.5 L1698.0,1654.0 L1699.2,1638.3 L1700.4,1651.2 L1701.6,1651.6 L1702.8,1647.1 L1704.0,1646.7 L1705.2,1650.2 L1706.4,1653.6 L1707.6,1653.4 L1708.8,1647.3 L1710.0,1656.0 L1711.2,1641.5 L1712.4,1643.9 L1713.7,1646.0 L1714.9,1646.1 L1716.1,1651.1 L1717.3,1649.8 L1718.5,1643.2 L1719.7,1650.3 L1720.9,1640.4 L1722.1,1642.8 L1723.3,1644.2 L1724.5,1648.6 L1725.7,1651.9 L1726.9,1648.2 L1728.1,1652.2 L1729.3,1649.1 L1730.5,1649.1 L1731.7,1649.9 L1732.9,1641.7 L1734.1,1651.4 L1735.3,1650.6 L1736.5,1641.4 L1737.8,1645.5" stroke="#ff0000" stroke-width="8"/>
</g>
<g stroke-linecap="round">
<line x1="1459.25" y1="66.45" x2="1544.45" y2="66.45" stroke="#ff0000" stroke-width="8.9"/>
<line x1="1459.25" y1="147.55" x2="1544.45" y2="147.55" stroke="#000" stroke-width="8.8"/>
<line x1="1455.4" y1="982.5" x2="1536.5" y2="982.5" stroke="#000" stroke-width="8.4"/>
<line x1="1455.4" y1="1066" x2="1536.5" y2="1066" stroke="#ff0000" stroke-width="8.3"/>
</g>
<g font-family="'Liberation Serif', 'Times New Roman', Times, serif" font-size="68.5" text-anchor="middle">
<text x="160.50" y="100.50" fill="#262626">30</text>
<text x="159.70" y="227.00" fill="#262626">20</text>
<text x="161.60" y="346.80" fill="#262626">10</text>
<text x="160.70" y="476.30" fill="#262626">0</text>
<text><tspan x="92.80" y="604.50" fill="#000" stroke="#000" stroke-width="2.3">−</tspan><tspan x="151.60" y="601.90" fill="#262626">10</tspan></text>
<text><tspan x="92.80" y="717.10" fill="#000" stroke="#000" stroke-width="2.3">−</tspan><tspan x="149.70" y="715.00" fill="#000">20</tspan></text>
<text><tspan x="92.80" y="835.90" fill="#000" stroke="#000" stroke-width="2.3">−</tspan><tspan x="149.70" y="834.20" fill="#000">30</tspan></text>
<text x="1804.40" y="115.30" fill="#262626">6</text>
<text x="1804.00" y="235.00" fill="#262626">4</text>
<text x="1804.20" y="352.90" fill="#262626">2</text>
<text x="1817.70" y="470.40" fill="#262626">0</text>
<text><tspan x="1778.00" y="592.70" fill="#000" stroke="#000" stroke-width="2.3">−</tspan><tspan x="1818.10" y="590.90" fill="#000">2</tspan></text>
<text><tspan x="1778.00" y="711.70" fill="#000" stroke="#000" stroke-width="2.3">−</tspan><tspan x="1817.40" y="710.00" fill="#000">4</tspan></text>
<text><tspan x="1778.00" y="831.10" fill="#000" stroke="#000" stroke-width="2.3">−</tspan><tspan x="1818.30" y="831.10" fill="#000">6</tspan></text>
<text x="158.80" y="965.00" fill="#262626">150</text>
<text x="158.80" y="1191.80" fill="#262626">100</text>
<text x="157.00" y="1419.20" fill="#262626">50</text>
<text x="156.70" y="1651.60" fill="#262626">0</text>
<text x="229.90" y="1837.90" fill="#262626">0.1</text>
<text x="530.60" y="1837.90" fill="#262626">0.12</text>
<text x="830.20" y="1837.90" fill="#262626">0.14</text>
<text x="1126.80" y="1837.90" fill="#262626">0.16</text>
<text x="1427.30" y="1837.90" fill="#262626">0.18</text>
<text x="1720.90" y="1837.90" fill="#262626">0.2</text>
</g>
<g font-family="'Liberation Serif', 'Times New Roman', Times, serif" font-size="67.2" fill="#000" style="font-kerning:none">
<text transform="translate(64.40,531.60) rotate(-90)">E /V</text>
<text transform="translate(1896.90,506.20) rotate(-90)">I /A</text>
<text transform="rotate(-90)"><tspan x="-1556.2" y="69.0">P /W </tspan><tspan x="-1370.4" y="70.3">Q /Var</tspan></text>
<text y="1918.2"><tspan x="950.4" font-style="italic" font-size="68">t</tspan><tspan x="969.8">/</tspan><tspan x="986.4">s</tspan></text>
</g>
<g font-family="'Liberation Serif', 'Times New Roman', Times, serif" font-style="italic" fill="#000">
<text transform="scale(1,0.91)"><tspan x="1610.80" y="95.16" font-size="71.5">i</tspan><tspan x="1629.20" y="105.71" font-size="45.5">a</tspan></text>
<text transform="scale(1,0.91)"><tspan x="1607.50" y="191.87" font-size="70">e</tspan><tspan x="1636.70" y="202.86" font-size="45.5">a</tspan></text>
<text transform="scale(1,0.91)"><tspan x="1599.70" y="1103.30" font-size="71">p</tspan></text>
<text transform="scale(1,0.91)"><tspan x="1602.90" y="1203.74" font-size="71">q</tspan></text>
</g>
</svg>
</body></html>
